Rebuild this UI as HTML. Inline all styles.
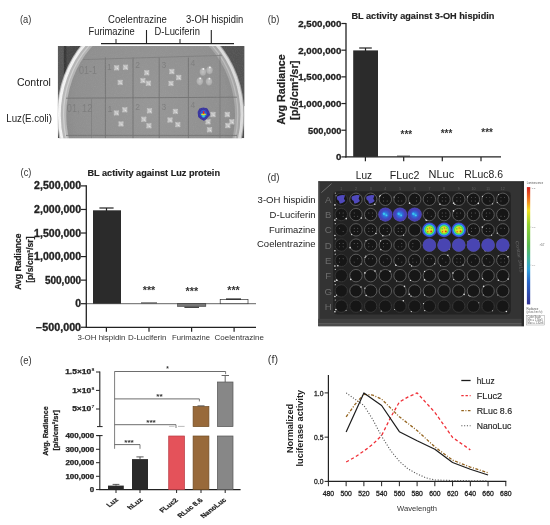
<!DOCTYPE html>
<html lang="en"><head><meta charset="utf-8"><title>Figure</title>
<style>
html,body{margin:0;padding:0;background:#fff;overflow:hidden;}
svg{display:block;font-family:'Liberation Sans', Arial, sans-serif;}
</style></head><body>
<svg width="550" height="525" viewBox="0 0 550 525">
<rect width="550" height="525" fill="#fff"/>
<g id="panel-a">
<text x="20.00" y="22.60" font-size="10" text-anchor="start" fill="#333" textLength="11.40" lengthAdjust="spacingAndGlyphs">(a)</text>
<text x="108.00" y="22.80" font-size="10.3" text-anchor="start" fill="#222" textLength="58.80" lengthAdjust="spacingAndGlyphs">Coelentrazine</text>
<text x="186.00" y="22.80" font-size="10.3" text-anchor="start" fill="#222" textLength="57.30" lengthAdjust="spacingAndGlyphs">3-OH hispidin</text>
<text x="88.50" y="34.80" font-size="10.3" text-anchor="start" fill="#222" textLength="46.20" lengthAdjust="spacingAndGlyphs">Furimazine</text>
<text x="154.50" y="34.80" font-size="10.3" text-anchor="start" fill="#222" textLength="45.40" lengthAdjust="spacingAndGlyphs">D-Luciferin</text>
<text x="16.90" y="86.10" font-size="10.3" text-anchor="start" fill="#222" textLength="34.00" lengthAdjust="spacingAndGlyphs">Control</text>
<text x="6.30" y="122.10" font-size="10.3" text-anchor="start" fill="#222" textLength="45.70" lengthAdjust="spacingAndGlyphs">Luz(E.coli)</text>
<line x1="101.00" y1="43.60" x2="234.00" y2="43.60" stroke="#222" stroke-width="1.1" />
<line x1="146.50" y1="30.00" x2="146.50" y2="43.60" stroke="#222" stroke-width="1.1" />
<line x1="211.30" y1="30.00" x2="211.30" y2="43.60" stroke="#222" stroke-width="1.1" />
<line x1="116.00" y1="39.00" x2="116.00" y2="43.60" stroke="#222" stroke-width="1.0" />
<line x1="180.00" y1="39.00" x2="180.00" y2="43.60" stroke="#222" stroke-width="1.0" />
<defs>
<clipPath id="clipA"><rect x="57.8" y="46.1" width="186.50" height="92.10"/></clipPath>
<radialGradient id="agar" cx="0.5" cy="0.45" r="0.6"><stop offset="0" stop-color="#979797"/><stop offset="0.75" stop-color="#909090"/><stop offset="1" stop-color="#848484"/></radialGradient>
<radialGradient id="col" cx="0.5" cy="0.5" r="0.5"><stop offset="0" stop-color="#d4d4d4"/><stop offset="0.55" stop-color="#c0c0c0" stop-opacity="0.85"/><stop offset="1" stop-color="#a8a8a8" stop-opacity="0"/></radialGradient>
<radialGradient id="colbig" cx="0.5" cy="0.5" r="0.5"><stop offset="0" stop-color="#c2c2c2"/><stop offset="0.7" stop-color="#b2b2b2" stop-opacity="0.9"/><stop offset="1" stop-color="#a0a0a0" stop-opacity="0"/></radialGradient>
<filter id="blurA" x="-10%" y="-10%" width="120%" height="120%"><feGaussianBlur stdDeviation="0.55"/></filter>
<filter id="noiseA" x="0" y="0" width="100%" height="100%"><feTurbulence type="fractalNoise" baseFrequency="0.9" numOctaves="2" seed="3" result="n"/><feColorMatrix type="matrix" values="0 0 0 0 0.5  0 0 0 0 0.5  0 0 0 0 0.5  0.6 0 0 0 -0.22"/></filter>
<linearGradient id="rimfill" x1="0" y1="0" x2="1" y2="0"><stop offset="0" stop-color="#b9b9b9"/><stop offset="0.5" stop-color="#a8a8a8"/><stop offset="1" stop-color="#a6a6a6"/></linearGradient>
<linearGradient id="rimline" x1="0" y1="0" x2="1" y2="0"><stop offset="0" stop-color="#f6f6f6"/><stop offset="0.5" stop-color="#e2e2e2"/><stop offset="1" stop-color="#dcdcdc"/></linearGradient>
<linearGradient id="rimline2" x1="0" y1="0" x2="1" y2="0"><stop offset="0" stop-color="#d0d0d0"/><stop offset="1" stop-color="#bcbcbc"/></linearGradient>
</defs>
<g clip-path="url(#clipA)">
<rect x="57.80" y="46.10" width="186.50" height="92.10" fill="#4a4a4a" />
<rect x="57.80" y="46.10" width="5.80" height="60.00" fill="#595959" />
<rect x="64.00" y="46.10" width="2.40" height="60.00" fill="#383838" />
<rect x="70.00" y="46.10" width="14.00" height="30.00" fill="#474747" />
<rect x="222.00" y="46.10" width="23.00" height="60.00" fill="#535353" />
<g filter="url(#blurA)">
<ellipse cx="150.65" cy="115" rx="93.7" ry="104.3" fill="url(#rimfill)"/>
<ellipse cx="150.65" cy="115" rx="91.3" ry="101.89999999999999" fill="none" stroke="url(#rimline)" stroke-width="2.8"/>
<ellipse cx="150.65" cy="115" rx="87.10000000000001" ry="97.7" fill="none" stroke="url(#rimline2)" stroke-width="1.2"/>
<ellipse cx="150.65" cy="115" rx="84.4" ry="95.0" fill="url(#agar)"/>
<line x1="105.40" y1="57.50" x2="105.40" y2="139.00" stroke="#737373" stroke-width="0.9" />
<line x1="133.00" y1="57.50" x2="133.00" y2="139.00" stroke="#737373" stroke-width="0.9" />
<line x1="159.20" y1="57.50" x2="159.20" y2="139.00" stroke="#737373" stroke-width="0.9" />
<line x1="188.40" y1="57.50" x2="188.40" y2="139.00" stroke="#737373" stroke-width="0.9" />
<line x1="220.00" y1="54.00" x2="220.00" y2="139.00" stroke="#7a7a7a" stroke-width="0.8" />
<line x1="91.50" y1="99.00" x2="91.50" y2="139.00" stroke="#7c7c7c" stroke-width="0.7" />
<line x1="83.00" y1="59.60" x2="222.00" y2="55.40" stroke="#7c7c7c" stroke-width="0.8" />
<line x1="66.00" y1="98.20" x2="237.00" y2="97.20" stroke="#737373" stroke-width="0.9" />
<line x1="66.00" y1="135.40" x2="237.00" y2="135.40" stroke="#747474" stroke-width="0.9" />
<text x="79" y="74.2" font-size="11" fill="#707070" opacity="0.6" textLength="18" lengthAdjust="spacingAndGlyphs">01-1</text>
<text x="66.8" y="111.6" font-size="11" fill="#707070" opacity="0.6" textLength="25.5" lengthAdjust="spacingAndGlyphs">01, 12</text>
<text x="107" y="70.0" font-size="8.5" fill="#707070" opacity="0.6">1</text>
<text x="135.2" y="67.5" font-size="8.5" fill="#707070" opacity="0.6">2</text>
<text x="161.6" y="68.0" font-size="8.5" fill="#707070" opacity="0.6">3</text>
<text x="190.6" y="65.5" font-size="8.5" fill="#707070" opacity="0.6">4</text>
<text x="107.4" y="112.0" font-size="8.5" fill="#707070" opacity="0.6">1</text>
<text x="135.2" y="109.5" font-size="8.5" fill="#707070" opacity="0.6">2</text>
<text x="161.6" y="110.0" font-size="8.5" fill="#707070" opacity="0.6">3</text>
<text x="190.6" y="107.5" font-size="8.5" fill="#707070" opacity="0.6">4</text>
<circle cx="116.6" cy="67.8" r="3.5" fill="url(#col)"/>
<path d="M114.70,65.90 L118.50,69.70 M118.50,65.90 L114.70,69.70" stroke="#cacaca" stroke-width="1.6" stroke-linecap="round" fill="none" opacity="0.85"/>
<circle cx="117.50" cy="68.60" r="0.5" fill="#f0f0f0"/>
<circle cx="115.60" cy="66.90" r="0.4" fill="#e6e6e6"/>
<circle cx="125.5" cy="67.2" r="3.5" fill="url(#col)"/>
<path d="M123.60,65.30 L127.40,69.10 M127.40,65.30 L123.60,69.10" stroke="#cacaca" stroke-width="1.6" stroke-linecap="round" fill="none" opacity="0.85"/>
<circle cx="126.40" cy="68.00" r="0.5" fill="#f0f0f0"/>
<circle cx="124.50" cy="66.30" r="0.4" fill="#e6e6e6"/>
<circle cx="120.2" cy="82.4" r="3.5" fill="url(#col)"/>
<path d="M118.30,80.50 L122.10,84.30 M122.10,80.50 L118.30,84.30" stroke="#cacaca" stroke-width="1.6" stroke-linecap="round" fill="none" opacity="0.85"/>
<circle cx="121.10" cy="83.20" r="0.5" fill="#f0f0f0"/>
<circle cx="119.20" cy="81.50" r="0.4" fill="#e6e6e6"/>
<circle cx="146.7" cy="72.7" r="3.5" fill="url(#col)"/>
<path d="M144.80,70.80 L148.60,74.60 M148.60,70.80 L144.80,74.60" stroke="#cacaca" stroke-width="1.6" stroke-linecap="round" fill="none" opacity="0.85"/>
<circle cx="147.60" cy="73.50" r="0.5" fill="#f0f0f0"/>
<circle cx="145.70" cy="71.80" r="0.4" fill="#e6e6e6"/>
<circle cx="142.9" cy="80.6" r="3.5" fill="url(#col)"/>
<path d="M141.00,78.70 L144.80,82.50 M144.80,78.70 L141.00,82.50" stroke="#cacaca" stroke-width="1.6" stroke-linecap="round" fill="none" opacity="0.85"/>
<circle cx="143.80" cy="81.40" r="0.5" fill="#f0f0f0"/>
<circle cx="141.90" cy="79.70" r="0.4" fill="#e6e6e6"/>
<circle cx="148.4" cy="83.3" r="3.5" fill="url(#col)"/>
<path d="M146.50,81.40 L150.30,85.20 M150.30,81.40 L146.50,85.20" stroke="#cacaca" stroke-width="1.6" stroke-linecap="round" fill="none" opacity="0.85"/>
<circle cx="149.30" cy="84.10" r="0.5" fill="#f0f0f0"/>
<circle cx="147.40" cy="82.40" r="0.4" fill="#e6e6e6"/>
<circle cx="171.8" cy="71.5" r="3.5" fill="url(#col)"/>
<path d="M169.90,69.60 L173.70,73.40 M173.70,69.60 L169.90,73.40" stroke="#cacaca" stroke-width="1.6" stroke-linecap="round" fill="none" opacity="0.85"/>
<circle cx="172.70" cy="72.30" r="0.5" fill="#f0f0f0"/>
<circle cx="170.80" cy="70.60" r="0.4" fill="#e6e6e6"/>
<circle cx="178.7" cy="77.5" r="3.5" fill="url(#col)"/>
<path d="M176.80,75.60 L180.60,79.40 M180.60,75.60 L176.80,79.40" stroke="#cacaca" stroke-width="1.6" stroke-linecap="round" fill="none" opacity="0.85"/>
<circle cx="179.60" cy="78.30" r="0.5" fill="#f0f0f0"/>
<circle cx="177.70" cy="76.60" r="0.4" fill="#e6e6e6"/>
<circle cx="171" cy="83.4" r="3.5" fill="url(#col)"/>
<path d="M169.10,81.50 L172.90,85.30 M172.90,81.50 L169.10,85.30" stroke="#cacaca" stroke-width="1.6" stroke-linecap="round" fill="none" opacity="0.85"/>
<circle cx="171.90" cy="84.20" r="0.5" fill="#f0f0f0"/>
<circle cx="170.00" cy="82.50" r="0.4" fill="#e6e6e6"/>
<circle cx="116.4" cy="112.9" r="3.5" fill="url(#col)"/>
<path d="M114.50,111.00 L118.30,114.80 M118.30,111.00 L114.50,114.80" stroke="#cacaca" stroke-width="1.6" stroke-linecap="round" fill="none" opacity="0.85"/>
<circle cx="117.30" cy="113.70" r="0.5" fill="#f0f0f0"/>
<circle cx="115.40" cy="112.00" r="0.4" fill="#e6e6e6"/>
<circle cx="124.8" cy="109.8" r="3.5" fill="url(#col)"/>
<path d="M122.90,107.90 L126.70,111.70 M126.70,107.90 L122.90,111.70" stroke="#cacaca" stroke-width="1.6" stroke-linecap="round" fill="none" opacity="0.85"/>
<circle cx="125.70" cy="110.60" r="0.5" fill="#f0f0f0"/>
<circle cx="123.80" cy="108.90" r="0.4" fill="#e6e6e6"/>
<circle cx="121" cy="123.9" r="3.5" fill="url(#col)"/>
<path d="M119.10,122.00 L122.90,125.80 M122.90,122.00 L119.10,125.80" stroke="#cacaca" stroke-width="1.6" stroke-linecap="round" fill="none" opacity="0.85"/>
<circle cx="121.90" cy="124.70" r="0.5" fill="#f0f0f0"/>
<circle cx="120.00" cy="123.00" r="0.4" fill="#e6e6e6"/>
<circle cx="149.5" cy="110.7" r="3.5" fill="url(#col)"/>
<path d="M147.60,108.80 L151.40,112.60 M151.40,108.80 L147.60,112.60" stroke="#cacaca" stroke-width="1.6" stroke-linecap="round" fill="none" opacity="0.85"/>
<circle cx="150.40" cy="111.50" r="0.5" fill="#f0f0f0"/>
<circle cx="148.50" cy="109.80" r="0.4" fill="#e6e6e6"/>
<circle cx="143.8" cy="119.3" r="3.5" fill="url(#col)"/>
<path d="M141.90,117.40 L145.70,121.20 M145.70,117.40 L141.90,121.20" stroke="#cacaca" stroke-width="1.6" stroke-linecap="round" fill="none" opacity="0.85"/>
<circle cx="144.70" cy="120.10" r="0.5" fill="#f0f0f0"/>
<circle cx="142.80" cy="118.40" r="0.4" fill="#e6e6e6"/>
<circle cx="148.9" cy="125.7" r="3.5" fill="url(#col)"/>
<path d="M147.00,123.80 L150.80,127.60 M150.80,123.80 L147.00,127.60" stroke="#cacaca" stroke-width="1.6" stroke-linecap="round" fill="none" opacity="0.85"/>
<circle cx="149.80" cy="126.50" r="0.5" fill="#f0f0f0"/>
<circle cx="147.90" cy="124.80" r="0.4" fill="#e6e6e6"/>
<circle cx="175.4" cy="111.4" r="3.5" fill="url(#col)"/>
<path d="M173.50,109.50 L177.30,113.30 M177.30,109.50 L173.50,113.30" stroke="#cacaca" stroke-width="1.6" stroke-linecap="round" fill="none" opacity="0.85"/>
<circle cx="176.30" cy="112.20" r="0.5" fill="#f0f0f0"/>
<circle cx="174.40" cy="110.50" r="0.4" fill="#e6e6e6"/>
<circle cx="170" cy="120" r="3.5" fill="url(#col)"/>
<path d="M168.10,118.10 L171.90,121.90 M171.90,118.10 L168.10,121.90" stroke="#cacaca" stroke-width="1.6" stroke-linecap="round" fill="none" opacity="0.85"/>
<circle cx="170.90" cy="120.80" r="0.5" fill="#f0f0f0"/>
<circle cx="169.00" cy="119.10" r="0.4" fill="#e6e6e6"/>
<circle cx="177.8" cy="124.6" r="3.5" fill="url(#col)"/>
<path d="M175.90,122.70 L179.70,126.50 M179.70,122.70 L175.90,126.50" stroke="#cacaca" stroke-width="1.6" stroke-linecap="round" fill="none" opacity="0.85"/>
<circle cx="178.70" cy="125.40" r="0.5" fill="#f0f0f0"/>
<circle cx="176.80" cy="123.70" r="0.4" fill="#e6e6e6"/>
<circle cx="213" cy="114.5" r="3.5" fill="url(#col)"/>
<path d="M211.10,112.60 L214.90,116.40 M214.90,112.60 L211.10,116.40" stroke="#cacaca" stroke-width="1.6" stroke-linecap="round" fill="none" opacity="0.85"/>
<circle cx="213.90" cy="115.30" r="0.5" fill="#f0f0f0"/>
<circle cx="212.00" cy="113.60" r="0.4" fill="#e6e6e6"/>
<circle cx="208" cy="121.8" r="3.5" fill="url(#col)"/>
<path d="M206.10,119.90 L209.90,123.70 M209.90,119.90 L206.10,123.70" stroke="#cacaca" stroke-width="1.6" stroke-linecap="round" fill="none" opacity="0.85"/>
<circle cx="208.90" cy="122.60" r="0.5" fill="#f0f0f0"/>
<circle cx="207.00" cy="120.90" r="0.4" fill="#e6e6e6"/>
<circle cx="209.5" cy="129.7" r="3.5" fill="url(#col)"/>
<path d="M207.60,127.80 L211.40,131.60 M211.40,127.80 L207.60,131.60" stroke="#cacaca" stroke-width="1.6" stroke-linecap="round" fill="none" opacity="0.85"/>
<circle cx="210.40" cy="130.50" r="0.5" fill="#f0f0f0"/>
<circle cx="208.50" cy="128.80" r="0.4" fill="#e6e6e6"/>
<circle cx="227.3" cy="114.5" r="3.5" fill="url(#col)"/>
<path d="M225.40,112.60 L229.20,116.40 M229.20,112.60 L225.40,116.40" stroke="#cacaca" stroke-width="1.6" stroke-linecap="round" fill="none" opacity="0.85"/>
<circle cx="228.20" cy="115.30" r="0.5" fill="#f0f0f0"/>
<circle cx="226.30" cy="113.60" r="0.4" fill="#e6e6e6"/>
<circle cx="231.8" cy="121.8" r="3.5" fill="url(#col)"/>
<path d="M229.90,119.90 L233.70,123.70 M233.70,119.90 L229.90,123.70" stroke="#cacaca" stroke-width="1.6" stroke-linecap="round" fill="none" opacity="0.85"/>
<circle cx="232.70" cy="122.60" r="0.5" fill="#f0f0f0"/>
<circle cx="230.80" cy="120.90" r="0.4" fill="#e6e6e6"/>
<circle cx="227.8" cy="125.5" r="3.5" fill="url(#col)"/>
<path d="M225.90,123.60 L229.70,127.40 M229.70,123.60 L225.90,127.40" stroke="#cacaca" stroke-width="1.6" stroke-linecap="round" fill="none" opacity="0.85"/>
<circle cx="228.70" cy="126.30" r="0.5" fill="#f0f0f0"/>
<circle cx="226.80" cy="124.60" r="0.4" fill="#e6e6e6"/>
<ellipse cx="202.9" cy="71.8" rx="3.9" ry="4.7" fill="url(#colbig)"/>
<circle cx="203.3" cy="69.0" r="0.9" fill="#f2f2f2"/>
<ellipse cx="209.5" cy="70.2" rx="3.9" ry="4.7" fill="url(#colbig)"/>
<circle cx="209.9" cy="67.4" r="0.9" fill="#f2f2f2"/>
<ellipse cx="199.8" cy="81.2" rx="3.9" ry="4.7" fill="url(#colbig)"/>
<circle cx="200.20000000000002" cy="78.4" r="0.9" fill="#f2f2f2"/>
<ellipse cx="209" cy="81.5" rx="3.9" ry="4.7" fill="url(#colbig)"/>
<circle cx="209.4" cy="78.7" r="0.9" fill="#f2f2f2"/>
</g>
<g filter="url(#blurA)">
<path d="M197.6,111.9 L199.4,108.5 L203.1,107.5 L207.2,108.30000000000001 L209.2,111.7 L210.2,114.9 L208.2,117.10000000000001 L206.2,119.5 L203.79999999999998,120.7 L200.79999999999998,119.30000000000001 L198.2,116.9 Z" fill="#39349f"/>
<path d="M200.2,112.30000000000001 L201.79999999999998,110.10000000000001 L205.2,110.10000000000001 L207.0,112.7 L206.79999999999998,115.7 L204.6,118.10000000000001 L202.0,117.5 L200.2,115.30000000000001 Z" fill="#2a55d6"/>
<ellipse cx="203.5" cy="116.10000000000001" rx="1.5" ry="1.4" fill="#30c8e0"/>
<rect x="201.0" y="113.7" width="5.2" height="1.5" fill="#a0e040"/>
<rect x="202.4" y="113.5" width="2.4" height="1.6" fill="#f0e030"/>
<rect x="202.9" y="111.10000000000001" width="1.5" height="3.0" fill="#e8261c"/>
</g>
<rect x="57.8" y="46.1" width="186.50" height="92.10" filter="url(#noiseA)" opacity="0.35"/>
</g>
</g>
<g id="panel-b">
<text x="267.80" y="23.20" font-size="10" text-anchor="start" fill="#333" textLength="11.50" lengthAdjust="spacingAndGlyphs">(b)</text>
<text x="351.40" y="19.00" font-size="8.2" text-anchor="start" fill="#222" font-weight="bold" textLength="143.00" lengthAdjust="spacingAndGlyphs" stroke="#222" stroke-width="0.15">BL activity against 3-OH hispidin</text>
<line x1="346.00" y1="22.90" x2="346.00" y2="157.50" stroke="#222" stroke-width="1.3" />
<line x1="345.40" y1="156.90" x2="501.00" y2="156.90" stroke="#222" stroke-width="1.3" />
<line x1="341.40" y1="23.50" x2="346.00" y2="23.50" stroke="#222" stroke-width="1.2" />
<text x="341.40" y="26.90" font-size="9.6" text-anchor="end" fill="#222" font-weight="bold" textLength="43.20" lengthAdjust="spacingAndGlyphs" stroke="#222" stroke-width="0.3">2,500,000</text>
<line x1="341.40" y1="50.18" x2="346.00" y2="50.18" stroke="#222" stroke-width="1.2" />
<text x="341.40" y="53.58" font-size="9.6" text-anchor="end" fill="#222" font-weight="bold" textLength="43.20" lengthAdjust="spacingAndGlyphs" stroke="#222" stroke-width="0.3">2,000,000</text>
<line x1="341.40" y1="76.86" x2="346.00" y2="76.86" stroke="#222" stroke-width="1.2" />
<text x="341.40" y="80.26" font-size="9.6" text-anchor="end" fill="#222" font-weight="bold" textLength="43.20" lengthAdjust="spacingAndGlyphs" stroke="#222" stroke-width="0.3">1,500,000</text>
<line x1="341.40" y1="103.54" x2="346.00" y2="103.54" stroke="#222" stroke-width="1.2" />
<text x="341.40" y="106.94" font-size="9.6" text-anchor="end" fill="#222" font-weight="bold" textLength="43.20" lengthAdjust="spacingAndGlyphs" stroke="#222" stroke-width="0.3">1,000,000</text>
<line x1="341.40" y1="130.22" x2="346.00" y2="130.22" stroke="#222" stroke-width="1.2" />
<text x="341.40" y="133.62" font-size="9.6" text-anchor="end" fill="#222" font-weight="bold" textLength="33.30" lengthAdjust="spacingAndGlyphs" stroke="#222" stroke-width="0.3">500,000</text>
<line x1="341.40" y1="156.90" x2="346.00" y2="156.90" stroke="#222" stroke-width="1.2" />
<text x="341.40" y="160.30" font-size="9.6" text-anchor="end" fill="#222" font-weight="bold" textLength="5.40" lengthAdjust="spacingAndGlyphs" stroke="#222" stroke-width="0.3">0</text>
<line x1="365.40" y1="156.90" x2="365.40" y2="161.20" stroke="#222" stroke-width="1.2" />
<line x1="403.70" y1="156.90" x2="403.70" y2="161.20" stroke="#222" stroke-width="1.2" />
<line x1="442.30" y1="156.90" x2="442.30" y2="161.20" stroke="#222" stroke-width="1.2" />
<line x1="481.00" y1="156.90" x2="481.00" y2="161.20" stroke="#222" stroke-width="1.2" />
<rect x="353.20" y="50.39" width="24.80" height="106.51" fill="#2b2b2b" />
<line x1="365.50" y1="48.00" x2="365.50" y2="51.00" stroke="#222" stroke-width="1.2" />
<line x1="359.20" y1="48.00" x2="371.80" y2="48.00" stroke="#222" stroke-width="1.2" />
<line x1="397.00" y1="156.10" x2="410.00" y2="156.10" stroke="#333" stroke-width="0.9" />
<text x="406.40" y="138.00" font-size="11" text-anchor="middle" fill="#333" font-weight="bold" textLength="11.60" lengthAdjust="spacingAndGlyphs">***</text>
<text x="446.50" y="137.20" font-size="11" text-anchor="middle" fill="#333" font-weight="bold" textLength="11.60" lengthAdjust="spacingAndGlyphs">***</text>
<text x="487.10" y="136.20" font-size="11" text-anchor="middle" fill="#333" font-weight="bold" textLength="11.60" lengthAdjust="spacingAndGlyphs">***</text>
<text x="285.20" y="89.50" font-size="10.6" text-anchor="middle" fill="#222" font-weight="bold" textLength="70.50" lengthAdjust="spacingAndGlyphs" transform="rotate(-90 285.20 89.50)" stroke="#222" stroke-width="0.2">Avg Radiance</text>
<text x="298.20" y="90.30" font-size="10.6" text-anchor="middle" fill="#222" font-weight="bold" textLength="59.40" lengthAdjust="spacingAndGlyphs" transform="rotate(-90 298.20 90.30)" stroke="#222" stroke-width="0.2">[p/s/cm²/sr]</text>
<text x="355.80" y="178.50" font-size="10.4" text-anchor="start" fill="#222" textLength="16.20" lengthAdjust="spacingAndGlyphs">Luz</text>
<text x="389.80" y="178.50" font-size="10.4" text-anchor="start" fill="#222" textLength="29.60" lengthAdjust="spacingAndGlyphs">FLuc2</text>
<text x="428.60" y="177.60" font-size="10.4" text-anchor="start" fill="#222" textLength="25.60" lengthAdjust="spacingAndGlyphs">NLuc</text>
<text x="464.20" y="177.60" font-size="10.4" text-anchor="start" fill="#222" textLength="38.80" lengthAdjust="spacingAndGlyphs">RLuc8.6</text>
</g>
<g id="panel-c">
<text x="20.60" y="176.20" font-size="10" text-anchor="start" fill="#333" textLength="10.80" lengthAdjust="spacingAndGlyphs">(c)</text>
<text x="87.40" y="176.00" font-size="8.2" text-anchor="start" fill="#222" font-weight="bold" textLength="132.60" lengthAdjust="spacingAndGlyphs" stroke="#222" stroke-width="0.15">BL activity against Luz protein</text>
<line x1="86.30" y1="185.30" x2="86.30" y2="327.90" stroke="#222" stroke-width="1.3" />
<line x1="85.70" y1="327.30" x2="256.00" y2="327.30" stroke="#222" stroke-width="1.3" />
<line x1="86.30" y1="303.70" x2="256.00" y2="303.70" stroke="#222" stroke-width="0.7" />
<line x1="80.90" y1="185.90" x2="86.30" y2="185.90" stroke="#222" stroke-width="1.2" />
<text x="81.10" y="189.40" font-size="10" text-anchor="end" fill="#222" font-weight="bold" textLength="47.00" lengthAdjust="spacingAndGlyphs" stroke="#222" stroke-width="0.3">2,500,000</text>
<line x1="80.90" y1="209.46" x2="86.30" y2="209.46" stroke="#222" stroke-width="1.2" />
<text x="81.10" y="212.96" font-size="10" text-anchor="end" fill="#222" font-weight="bold" textLength="47.00" lengthAdjust="spacingAndGlyphs" stroke="#222" stroke-width="0.3">2,000,000</text>
<line x1="80.90" y1="233.02" x2="86.30" y2="233.02" stroke="#222" stroke-width="1.2" />
<text x="81.10" y="236.52" font-size="10" text-anchor="end" fill="#222" font-weight="bold" textLength="47.00" lengthAdjust="spacingAndGlyphs" stroke="#222" stroke-width="0.3">1,500,000</text>
<line x1="80.90" y1="256.58" x2="86.30" y2="256.58" stroke="#222" stroke-width="1.2" />
<text x="81.10" y="260.08" font-size="10" text-anchor="end" fill="#222" font-weight="bold" textLength="47.00" lengthAdjust="spacingAndGlyphs" stroke="#222" stroke-width="0.3">1,000,000</text>
<line x1="80.90" y1="280.14" x2="86.30" y2="280.14" stroke="#222" stroke-width="1.2" />
<text x="81.10" y="283.64" font-size="10" text-anchor="end" fill="#222" font-weight="bold" textLength="36.20" lengthAdjust="spacingAndGlyphs" stroke="#222" stroke-width="0.3">500,000</text>
<line x1="80.90" y1="303.70" x2="86.30" y2="303.70" stroke="#222" stroke-width="1.2" />
<text x="81.10" y="307.20" font-size="10" text-anchor="end" fill="#222" font-weight="bold" textLength="5.80" lengthAdjust="spacingAndGlyphs" stroke="#222" stroke-width="0.3">0</text>
<line x1="80.90" y1="327.26" x2="86.30" y2="327.26" stroke="#222" stroke-width="1.2" />
<text x="81.10" y="330.76" font-size="10" text-anchor="end" fill="#222" font-weight="bold" textLength="45.00" lengthAdjust="spacingAndGlyphs" stroke="#222" stroke-width="0.3">−500,000</text>
<line x1="106.40" y1="327.30" x2="106.40" y2="331.80" stroke="#222" stroke-width="1.2" />
<line x1="149.00" y1="327.30" x2="149.00" y2="331.80" stroke="#222" stroke-width="1.2" />
<line x1="191.60" y1="327.30" x2="191.60" y2="331.80" stroke="#222" stroke-width="1.2" />
<line x1="234.10" y1="327.30" x2="234.10" y2="331.80" stroke="#222" stroke-width="1.2" />
<rect x="93.00" y="210.31" width="28.00" height="93.39" fill="#2b2b2b" />
<line x1="106.50" y1="208.00" x2="106.50" y2="211.00" stroke="#222" stroke-width="1.2" />
<line x1="99.40" y1="208.00" x2="113.60" y2="208.00" stroke="#222" stroke-width="1.2" />
<line x1="141.00" y1="302.90" x2="157.00" y2="302.90" stroke="#333" stroke-width="0.9" />
<rect x="177.60" y="303.70" width="28.20" height="2.60" fill="#777" stroke="#333" stroke-width="0.6" />
<line x1="184.40" y1="307.30" x2="199.00" y2="307.30" stroke="#333" stroke-width="1.2" />
<rect x="220.20" y="299.40" width="27.80" height="4.30" fill="#fff" stroke="#333" stroke-width="0.7" />
<line x1="226.00" y1="299.10" x2="241.00" y2="299.10" stroke="#222" stroke-width="1.3" />
<text x="149.00" y="294.00" font-size="11" text-anchor="middle" fill="#333" font-weight="bold" textLength="12.60" lengthAdjust="spacingAndGlyphs">***</text>
<text x="191.80" y="294.90" font-size="11" text-anchor="middle" fill="#333" font-weight="bold" textLength="12.60" lengthAdjust="spacingAndGlyphs">***</text>
<text x="233.50" y="293.90" font-size="11" text-anchor="middle" fill="#333" font-weight="bold" textLength="12.60" lengthAdjust="spacingAndGlyphs">***</text>
<text x="20.60" y="261.70" font-size="8.6" text-anchor="middle" fill="#222" font-weight="bold" textLength="56.20" lengthAdjust="spacingAndGlyphs" transform="rotate(-90 20.60 261.70)" stroke="#222" stroke-width="0.2">Avg Radiance</text>
<text x="32.60" y="259.60" font-size="8.6" text-anchor="middle" fill="#222" font-weight="bold" textLength="46.30" lengthAdjust="spacingAndGlyphs" transform="rotate(-90 32.60 259.60)" stroke="#222" stroke-width="0.2">[p/s/cm²/sr]</text>
<text x="77.50" y="339.90" font-size="7.6" text-anchor="start" fill="#333" textLength="48.00" lengthAdjust="spacingAndGlyphs">3-OH hispidin</text>
<text x="128.00" y="339.90" font-size="7.6" text-anchor="start" fill="#333" textLength="38.40" lengthAdjust="spacingAndGlyphs">D-Luciferin</text>
<text x="172.00" y="339.90" font-size="7.6" text-anchor="start" fill="#333" textLength="38.00" lengthAdjust="spacingAndGlyphs">Furimazine</text>
<text x="214.60" y="339.90" font-size="7.6" text-anchor="start" fill="#333" textLength="49.40" lengthAdjust="spacingAndGlyphs">Coelentrazine</text>
</g>
<g id="panel-d">
<text x="267.60" y="181.00" font-size="10" text-anchor="start" fill="#333" textLength="12.00" lengthAdjust="spacingAndGlyphs">(d)</text>
<text x="315.60" y="202.60" font-size="9.9" text-anchor="end" fill="#222" textLength="58.00" lengthAdjust="spacingAndGlyphs">3-OH hispidin</text>
<text x="315.60" y="218.00" font-size="9.9" text-anchor="end" fill="#222" textLength="46.00" lengthAdjust="spacingAndGlyphs">D-Luciferin</text>
<text x="315.60" y="233.40" font-size="9.9" text-anchor="end" fill="#222" textLength="46.60" lengthAdjust="spacingAndGlyphs">Furimazine</text>
<text x="315.60" y="246.60" font-size="9.9" text-anchor="end" fill="#222" textLength="58.60" lengthAdjust="spacingAndGlyphs">Coelentrazine</text>
<defs>
<clipPath id="clipD"><rect x="318.2" y="181.2" width="205.80" height="145.10"/></clipPath>
<filter id="blurD" x="-5%" y="-5%" width="110%" height="110%"><feGaussianBlur stdDeviation="0.55"/></filter>
<filter id="blurD2" x="-20%" y="-20%" width="140%" height="140%"><feGaussianBlur stdDeviation="0.7"/></filter>
<radialGradient id="gB" cx="0.5" cy="0.5" r="0.5"><stop offset="0" stop-color="#34a8e6"/><stop offset="0.35" stop-color="#2f68d8"/><stop offset="0.7" stop-color="#4541b8"/><stop offset="1" stop-color="#4a42ae"/></radialGradient>
<radialGradient id="gC" cx="0.5" cy="0.5" r="0.5"><stop offset="0" stop-color="#f0dc20"/><stop offset="0.42" stop-color="#d0e428"/><stop offset="0.58" stop-color="#48d448"/><stop offset="0.7" stop-color="#28c0e0"/><stop offset="0.8" stop-color="#2c62e0"/><stop offset="1" stop-color="#4a3fc0"/></radialGradient>
<linearGradient id="cbar" x1="0" y1="0" x2="0" y2="1"><stop offset="0" stop-color="#d42020"/><stop offset="0.11" stop-color="#f07c20"/><stop offset="0.2" stop-color="#f0e020"/><stop offset="0.32" stop-color="#90d030"/><stop offset="0.5" stop-color="#58b850"/><stop offset="0.62" stop-color="#40b0a0"/><stop offset="0.7" stop-color="#30a0d8"/><stop offset="0.8" stop-color="#2868c8"/><stop offset="1" stop-color="#343494"/></linearGradient>
</defs>
<g clip-path="url(#clipD)">
<rect x="318.20" y="181.20" width="205.80" height="145.10" fill="#333333" />
<rect x="318.20" y="181.20" width="1.30" height="145.10" fill="#585858" />
<rect x="318.20" y="318.80" width="205.80" height="8.00" fill="#414141" />
<rect x="318.20" y="323.40" width="205.80" height="0.90" fill="#6a6a6a" />
<rect x="318.20" y="324.30" width="205.80" height="2.20" fill="#4c4c4c" />
<rect x="318.20" y="181.20" width="205.80" height="1.00" fill="#2c2c2c" />
<rect x="521.60" y="181.20" width="2.60" height="145.10" fill="#2c2c2c" />
<g filter="url(#blurD)">
<rect x="333.2" y="191.2" width="177.6" height="123.2" rx="4" fill="#232323"/>
<line x1="321.40" y1="192.60" x2="331.50" y2="183.70" stroke="#747474" stroke-width="0.9" />
<circle cx="341.30" cy="199.30" r="6.2" fill="#181818" stroke="#3a3a3a" stroke-width="0.8"/>
<circle cx="355.98" cy="199.30" r="6.2" fill="#181818" stroke="#686868" stroke-width="0.8"/>
<circle cx="370.66" cy="199.30" r="6.2" fill="#181818" stroke="#686868" stroke-width="0.8"/>
<circle cx="385.34" cy="199.30" r="6.2" fill="#181818" stroke="#686868" stroke-width="0.8"/>
<circle cx="400.02" cy="199.30" r="6.2" fill="#181818" stroke="#686868" stroke-width="0.8"/>
<circle cx="414.70" cy="199.30" r="6.2" fill="#181818" stroke="#686868" stroke-width="0.8"/>
<circle cx="429.38" cy="199.30" r="6.2" fill="#181818" stroke="#686868" stroke-width="0.8"/>
<circle cx="444.06" cy="199.30" r="6.2" fill="#181818" stroke="#686868" stroke-width="0.8"/>
<circle cx="458.74" cy="199.30" r="6.2" fill="#181818" stroke="#686868" stroke-width="0.8"/>
<circle cx="473.42" cy="199.30" r="6.2" fill="#181818" stroke="#686868" stroke-width="0.8"/>
<circle cx="488.10" cy="199.30" r="6.2" fill="#181818" stroke="#686868" stroke-width="0.8"/>
<circle cx="502.78" cy="199.30" r="6.2" fill="#181818" stroke="#686868" stroke-width="0.8"/>
<circle cx="341.30" cy="214.57" r="6.2" fill="#181818" stroke="#3a3a3a" stroke-width="0.8"/>
<circle cx="355.98" cy="214.57" r="6.2" fill="#181818" stroke="#686868" stroke-width="0.8"/>
<circle cx="370.66" cy="214.57" r="6.2" fill="#181818" stroke="#686868" stroke-width="0.8"/>
<circle cx="385.34" cy="214.57" r="6.2" fill="#181818" stroke="#686868" stroke-width="0.8"/>
<circle cx="400.02" cy="214.57" r="6.2" fill="#181818" stroke="#686868" stroke-width="0.8"/>
<circle cx="414.70" cy="214.57" r="6.2" fill="#181818" stroke="#686868" stroke-width="0.8"/>
<circle cx="429.38" cy="214.57" r="6.2" fill="#181818" stroke="#686868" stroke-width="0.8"/>
<circle cx="444.06" cy="214.57" r="6.2" fill="#181818" stroke="#686868" stroke-width="0.8"/>
<circle cx="458.74" cy="214.57" r="6.2" fill="#181818" stroke="#686868" stroke-width="0.8"/>
<circle cx="473.42" cy="214.57" r="6.2" fill="#181818" stroke="#686868" stroke-width="0.8"/>
<circle cx="488.10" cy="214.57" r="6.2" fill="#181818" stroke="#686868" stroke-width="0.8"/>
<circle cx="502.78" cy="214.57" r="6.2" fill="#181818" stroke="#686868" stroke-width="0.8"/>
<circle cx="341.30" cy="229.84" r="6.2" fill="#181818" stroke="#3a3a3a" stroke-width="0.8"/>
<circle cx="355.98" cy="229.84" r="6.2" fill="#181818" stroke="#686868" stroke-width="0.8"/>
<circle cx="370.66" cy="229.84" r="6.2" fill="#181818" stroke="#686868" stroke-width="0.8"/>
<circle cx="385.34" cy="229.84" r="6.2" fill="#181818" stroke="#686868" stroke-width="0.8"/>
<circle cx="400.02" cy="229.84" r="6.2" fill="#181818" stroke="#686868" stroke-width="0.8"/>
<circle cx="414.70" cy="229.84" r="6.2" fill="#181818" stroke="#686868" stroke-width="0.8"/>
<circle cx="429.38" cy="229.84" r="6.2" fill="#181818" stroke="#686868" stroke-width="0.8"/>
<circle cx="444.06" cy="229.84" r="6.2" fill="#181818" stroke="#686868" stroke-width="0.8"/>
<circle cx="458.74" cy="229.84" r="6.2" fill="#181818" stroke="#686868" stroke-width="0.8"/>
<circle cx="473.42" cy="229.84" r="6.2" fill="#181818" stroke="#686868" stroke-width="0.8"/>
<circle cx="488.10" cy="229.84" r="6.2" fill="#181818" stroke="#686868" stroke-width="0.8"/>
<circle cx="502.78" cy="229.84" r="6.2" fill="#181818" stroke="#686868" stroke-width="0.8"/>
<circle cx="341.30" cy="245.11" r="6.2" fill="#181818" stroke="#3a3a3a" stroke-width="0.8"/>
<circle cx="355.98" cy="245.11" r="6.2" fill="#181818" stroke="#686868" stroke-width="0.8"/>
<circle cx="370.66" cy="245.11" r="6.2" fill="#181818" stroke="#686868" stroke-width="0.8"/>
<circle cx="385.34" cy="245.11" r="6.2" fill="#181818" stroke="#686868" stroke-width="0.8"/>
<circle cx="400.02" cy="245.11" r="6.2" fill="#181818" stroke="#686868" stroke-width="0.8"/>
<circle cx="414.70" cy="245.11" r="6.2" fill="#181818" stroke="#686868" stroke-width="0.8"/>
<circle cx="429.38" cy="245.11" r="6.2" fill="#181818" stroke="#686868" stroke-width="0.8"/>
<circle cx="444.06" cy="245.11" r="6.2" fill="#181818" stroke="#686868" stroke-width="0.8"/>
<circle cx="458.74" cy="245.11" r="6.2" fill="#181818" stroke="#686868" stroke-width="0.8"/>
<circle cx="473.42" cy="245.11" r="6.2" fill="#181818" stroke="#686868" stroke-width="0.8"/>
<circle cx="488.10" cy="245.11" r="6.2" fill="#181818" stroke="#686868" stroke-width="0.8"/>
<circle cx="502.78" cy="245.11" r="6.2" fill="#181818" stroke="#686868" stroke-width="0.8"/>
<circle cx="341.30" cy="260.38" r="6.2" fill="#181818" stroke="#3a3a3a" stroke-width="0.8"/>
<circle cx="355.98" cy="260.38" r="6.2" fill="#181818" stroke="#686868" stroke-width="0.8"/>
<circle cx="370.66" cy="260.38" r="6.2" fill="#181818" stroke="#686868" stroke-width="0.8"/>
<circle cx="385.34" cy="260.38" r="6.2" fill="#181818" stroke="#686868" stroke-width="0.8"/>
<circle cx="400.02" cy="260.38" r="6.2" fill="#181818" stroke="#686868" stroke-width="0.8"/>
<circle cx="414.70" cy="260.38" r="6.2" fill="#181818" stroke="#686868" stroke-width="0.8"/>
<circle cx="429.38" cy="260.38" r="6.2" fill="#181818" stroke="#686868" stroke-width="0.8"/>
<circle cx="444.06" cy="260.38" r="6.2" fill="#181818" stroke="#686868" stroke-width="0.8"/>
<circle cx="458.74" cy="260.38" r="6.2" fill="#181818" stroke="#686868" stroke-width="0.8"/>
<circle cx="473.42" cy="260.38" r="6.2" fill="#181818" stroke="#686868" stroke-width="0.8"/>
<circle cx="488.10" cy="260.38" r="6.2" fill="#181818" stroke="#686868" stroke-width="0.8"/>
<circle cx="502.78" cy="260.38" r="6.2" fill="#181818" stroke="#686868" stroke-width="0.8"/>
<circle cx="341.30" cy="275.65" r="6.2" fill="#181818" stroke="#3a3a3a" stroke-width="0.8"/>
<circle cx="355.98" cy="275.65" r="6.2" fill="#181818" stroke="#686868" stroke-width="0.8"/>
<circle cx="370.66" cy="275.65" r="6.2" fill="#181818" stroke="#686868" stroke-width="0.8"/>
<circle cx="385.34" cy="275.65" r="6.2" fill="#181818" stroke="#686868" stroke-width="0.8"/>
<circle cx="400.02" cy="275.65" r="6.2" fill="#181818" stroke="#686868" stroke-width="0.8"/>
<circle cx="414.70" cy="275.65" r="6.2" fill="#181818" stroke="#686868" stroke-width="0.8"/>
<circle cx="429.38" cy="275.65" r="6.2" fill="#181818" stroke="#686868" stroke-width="0.8"/>
<circle cx="444.06" cy="275.65" r="6.2" fill="#181818" stroke="#686868" stroke-width="0.8"/>
<circle cx="458.74" cy="275.65" r="6.2" fill="#181818" stroke="#686868" stroke-width="0.8"/>
<circle cx="473.42" cy="275.65" r="6.2" fill="#181818" stroke="#686868" stroke-width="0.8"/>
<circle cx="488.10" cy="275.65" r="6.2" fill="#181818" stroke="#686868" stroke-width="0.8"/>
<circle cx="502.78" cy="275.65" r="6.2" fill="#181818" stroke="#686868" stroke-width="0.8"/>
<circle cx="341.30" cy="290.92" r="6.2" fill="#181818" stroke="#3a3a3a" stroke-width="0.8"/>
<circle cx="355.98" cy="290.92" r="6.2" fill="#181818" stroke="#686868" stroke-width="0.8"/>
<circle cx="370.66" cy="290.92" r="6.2" fill="#181818" stroke="#686868" stroke-width="0.8"/>
<circle cx="385.34" cy="290.92" r="6.2" fill="#181818" stroke="#686868" stroke-width="0.8"/>
<circle cx="400.02" cy="290.92" r="6.2" fill="#181818" stroke="#686868" stroke-width="0.8"/>
<circle cx="414.70" cy="290.92" r="6.2" fill="#181818" stroke="#686868" stroke-width="0.8"/>
<circle cx="429.38" cy="290.92" r="6.2" fill="#181818" stroke="#686868" stroke-width="0.8"/>
<circle cx="444.06" cy="290.92" r="6.2" fill="#181818" stroke="#686868" stroke-width="0.8"/>
<circle cx="458.74" cy="290.92" r="6.2" fill="#181818" stroke="#686868" stroke-width="0.8"/>
<circle cx="473.42" cy="290.92" r="6.2" fill="#181818" stroke="#686868" stroke-width="0.8"/>
<circle cx="488.10" cy="290.92" r="6.2" fill="#181818" stroke="#686868" stroke-width="0.8"/>
<circle cx="502.78" cy="290.92" r="6.2" fill="#181818" stroke="#686868" stroke-width="0.8"/>
<circle cx="341.30" cy="306.19" r="6.2" fill="#181818" stroke="#3a3a3a" stroke-width="0.8"/>
<circle cx="355.98" cy="306.19" r="6.2" fill="#181818" stroke="#3a3a3a" stroke-width="0.8"/>
<circle cx="370.66" cy="306.19" r="6.2" fill="#181818" stroke="#3a3a3a" stroke-width="0.8"/>
<circle cx="385.34" cy="306.19" r="6.2" fill="#181818" stroke="#3a3a3a" stroke-width="0.8"/>
<circle cx="400.02" cy="306.19" r="6.2" fill="#181818" stroke="#3a3a3a" stroke-width="0.8"/>
<circle cx="414.70" cy="306.19" r="6.2" fill="#181818" stroke="#3a3a3a" stroke-width="0.8"/>
<circle cx="429.38" cy="306.19" r="6.2" fill="#181818" stroke="#3a3a3a" stroke-width="0.8"/>
<circle cx="444.06" cy="306.19" r="6.2" fill="#181818" stroke="#3a3a3a" stroke-width="0.8"/>
<circle cx="458.74" cy="306.19" r="6.2" fill="#181818" stroke="#3a3a3a" stroke-width="0.8"/>
<circle cx="473.42" cy="306.19" r="6.2" fill="#181818" stroke="#3a3a3a" stroke-width="0.8"/>
<circle cx="488.10" cy="306.19" r="6.2" fill="#181818" stroke="#3a3a3a" stroke-width="0.8"/>
<circle cx="502.78" cy="306.19" r="6.2" fill="#181818" stroke="#3a3a3a" stroke-width="0.8"/>
<circle cx="339.50" cy="197.70" r="0.42" fill="#9a9a9a"/>
<circle cx="343.10" cy="197.70" r="0.42" fill="#9a9a9a"/>
<circle cx="339.50" cy="201.00" r="0.42" fill="#9a9a9a"/>
<circle cx="343.10" cy="201.00" r="0.42" fill="#9a9a9a"/>
<circle cx="354.18" cy="197.70" r="0.42" fill="#9a9a9a"/>
<circle cx="357.78" cy="197.70" r="0.42" fill="#9a9a9a"/>
<circle cx="354.18" cy="201.00" r="0.42" fill="#9a9a9a"/>
<circle cx="357.78" cy="201.00" r="0.42" fill="#9a9a9a"/>
<circle cx="368.86" cy="197.70" r="0.42" fill="#9a9a9a"/>
<circle cx="372.46" cy="197.70" r="0.42" fill="#9a9a9a"/>
<circle cx="368.86" cy="201.00" r="0.42" fill="#9a9a9a"/>
<circle cx="372.46" cy="201.00" r="0.42" fill="#9a9a9a"/>
<circle cx="383.54" cy="197.70" r="0.42" fill="#9a9a9a"/>
<circle cx="383.54" cy="201.00" r="0.42" fill="#9a9a9a"/>
<circle cx="387.14" cy="201.00" r="0.42" fill="#9a9a9a"/>
<circle cx="398.22" cy="197.70" r="0.42" fill="#9a9a9a"/>
<circle cx="398.22" cy="201.00" r="0.42" fill="#9a9a9a"/>
<circle cx="401.82" cy="201.00" r="0.42" fill="#9a9a9a"/>
<circle cx="416.50" cy="197.70" r="0.42" fill="#9a9a9a"/>
<circle cx="416.50" cy="201.00" r="0.42" fill="#9a9a9a"/>
<circle cx="427.58" cy="197.70" r="0.42" fill="#9a9a9a"/>
<circle cx="431.18" cy="197.70" r="0.42" fill="#9a9a9a"/>
<circle cx="427.58" cy="201.00" r="0.42" fill="#9a9a9a"/>
<circle cx="442.26" cy="197.70" r="0.42" fill="#9a9a9a"/>
<circle cx="445.86" cy="197.70" r="0.42" fill="#9a9a9a"/>
<circle cx="442.26" cy="201.00" r="0.42" fill="#9a9a9a"/>
<circle cx="445.86" cy="201.00" r="0.42" fill="#9a9a9a"/>
<circle cx="456.94" cy="197.70" r="0.42" fill="#9a9a9a"/>
<circle cx="460.54" cy="197.70" r="0.42" fill="#9a9a9a"/>
<circle cx="456.94" cy="201.00" r="0.42" fill="#9a9a9a"/>
<circle cx="460.54" cy="201.00" r="0.42" fill="#9a9a9a"/>
<circle cx="471.62" cy="197.70" r="0.42" fill="#9a9a9a"/>
<circle cx="475.22" cy="197.70" r="0.42" fill="#9a9a9a"/>
<circle cx="471.62" cy="201.00" r="0.42" fill="#9a9a9a"/>
<circle cx="475.22" cy="201.00" r="0.42" fill="#9a9a9a"/>
<circle cx="486.30" cy="197.70" r="0.42" fill="#9a9a9a"/>
<circle cx="489.90" cy="197.70" r="0.42" fill="#9a9a9a"/>
<circle cx="489.90" cy="201.00" r="0.42" fill="#9a9a9a"/>
<circle cx="500.98" cy="197.70" r="0.42" fill="#9a9a9a"/>
<circle cx="504.58" cy="197.70" r="0.42" fill="#9a9a9a"/>
<circle cx="500.98" cy="201.00" r="0.42" fill="#9a9a9a"/>
<circle cx="339.50" cy="212.97" r="0.42" fill="#9a9a9a"/>
<circle cx="343.10" cy="212.97" r="0.42" fill="#9a9a9a"/>
<circle cx="343.10" cy="216.27" r="0.42" fill="#9a9a9a"/>
<circle cx="354.18" cy="212.97" r="0.42" fill="#9a9a9a"/>
<circle cx="354.18" cy="216.27" r="0.42" fill="#9a9a9a"/>
<circle cx="357.78" cy="216.27" r="0.42" fill="#9a9a9a"/>
<circle cx="368.86" cy="212.97" r="0.42" fill="#9a9a9a"/>
<circle cx="372.46" cy="212.97" r="0.42" fill="#9a9a9a"/>
<circle cx="372.46" cy="216.27" r="0.42" fill="#9a9a9a"/>
<circle cx="387.14" cy="212.97" r="0.42" fill="#9a9a9a"/>
<circle cx="383.54" cy="216.27" r="0.42" fill="#9a9a9a"/>
<circle cx="387.14" cy="216.27" r="0.42" fill="#9a9a9a"/>
<circle cx="398.22" cy="212.97" r="0.42" fill="#9a9a9a"/>
<circle cx="401.82" cy="212.97" r="0.42" fill="#9a9a9a"/>
<circle cx="412.90" cy="212.97" r="0.42" fill="#9a9a9a"/>
<circle cx="416.50" cy="212.97" r="0.42" fill="#9a9a9a"/>
<circle cx="412.90" cy="216.27" r="0.42" fill="#9a9a9a"/>
<circle cx="416.50" cy="216.27" r="0.42" fill="#9a9a9a"/>
<circle cx="427.58" cy="212.97" r="0.42" fill="#9a9a9a"/>
<circle cx="431.18" cy="216.27" r="0.42" fill="#9a9a9a"/>
<circle cx="442.26" cy="212.97" r="0.42" fill="#9a9a9a"/>
<circle cx="445.86" cy="212.97" r="0.42" fill="#9a9a9a"/>
<circle cx="442.26" cy="216.27" r="0.42" fill="#9a9a9a"/>
<circle cx="445.86" cy="216.27" r="0.42" fill="#9a9a9a"/>
<circle cx="456.94" cy="212.97" r="0.42" fill="#9a9a9a"/>
<circle cx="460.54" cy="212.97" r="0.42" fill="#9a9a9a"/>
<circle cx="456.94" cy="216.27" r="0.42" fill="#9a9a9a"/>
<circle cx="471.62" cy="212.97" r="0.42" fill="#9a9a9a"/>
<circle cx="475.22" cy="212.97" r="0.42" fill="#9a9a9a"/>
<circle cx="471.62" cy="216.27" r="0.42" fill="#9a9a9a"/>
<circle cx="486.30" cy="212.97" r="0.42" fill="#9a9a9a"/>
<circle cx="489.90" cy="212.97" r="0.42" fill="#9a9a9a"/>
<circle cx="486.30" cy="216.27" r="0.42" fill="#9a9a9a"/>
<circle cx="500.98" cy="216.27" r="0.42" fill="#9a9a9a"/>
<circle cx="504.58" cy="216.27" r="0.42" fill="#9a9a9a"/>
<circle cx="339.50" cy="228.24" r="0.42" fill="#9a9a9a"/>
<circle cx="343.10" cy="231.54" r="0.42" fill="#9a9a9a"/>
<circle cx="354.18" cy="228.24" r="0.42" fill="#9a9a9a"/>
<circle cx="357.78" cy="228.24" r="0.42" fill="#9a9a9a"/>
<circle cx="354.18" cy="231.54" r="0.42" fill="#9a9a9a"/>
<circle cx="357.78" cy="231.54" r="0.42" fill="#9a9a9a"/>
<circle cx="368.86" cy="228.24" r="0.42" fill="#9a9a9a"/>
<circle cx="372.46" cy="228.24" r="0.42" fill="#9a9a9a"/>
<circle cx="368.86" cy="231.54" r="0.42" fill="#9a9a9a"/>
<circle cx="372.46" cy="231.54" r="0.42" fill="#9a9a9a"/>
<circle cx="383.54" cy="228.24" r="0.42" fill="#9a9a9a"/>
<circle cx="387.14" cy="228.24" r="0.42" fill="#9a9a9a"/>
<circle cx="387.14" cy="231.54" r="0.42" fill="#9a9a9a"/>
<circle cx="398.22" cy="228.24" r="0.42" fill="#9a9a9a"/>
<circle cx="401.82" cy="228.24" r="0.42" fill="#9a9a9a"/>
<circle cx="398.22" cy="231.54" r="0.42" fill="#9a9a9a"/>
<circle cx="401.82" cy="231.54" r="0.42" fill="#9a9a9a"/>
<circle cx="427.58" cy="228.24" r="0.42" fill="#9a9a9a"/>
<circle cx="431.18" cy="228.24" r="0.42" fill="#9a9a9a"/>
<circle cx="427.58" cy="231.54" r="0.42" fill="#9a9a9a"/>
<circle cx="431.18" cy="231.54" r="0.42" fill="#9a9a9a"/>
<circle cx="442.26" cy="228.24" r="0.42" fill="#9a9a9a"/>
<circle cx="445.86" cy="228.24" r="0.42" fill="#9a9a9a"/>
<circle cx="442.26" cy="231.54" r="0.42" fill="#9a9a9a"/>
<circle cx="445.86" cy="231.54" r="0.42" fill="#9a9a9a"/>
<circle cx="456.94" cy="228.24" r="0.42" fill="#9a9a9a"/>
<circle cx="460.54" cy="228.24" r="0.42" fill="#9a9a9a"/>
<circle cx="456.94" cy="231.54" r="0.42" fill="#9a9a9a"/>
<circle cx="460.54" cy="231.54" r="0.42" fill="#9a9a9a"/>
<circle cx="471.62" cy="228.24" r="0.42" fill="#9a9a9a"/>
<circle cx="475.22" cy="228.24" r="0.42" fill="#9a9a9a"/>
<circle cx="471.62" cy="231.54" r="0.42" fill="#9a9a9a"/>
<circle cx="486.30" cy="228.24" r="0.42" fill="#9a9a9a"/>
<circle cx="489.90" cy="228.24" r="0.42" fill="#9a9a9a"/>
<circle cx="486.30" cy="231.54" r="0.42" fill="#9a9a9a"/>
<circle cx="489.90" cy="231.54" r="0.42" fill="#9a9a9a"/>
<circle cx="500.98" cy="228.24" r="0.42" fill="#9a9a9a"/>
<circle cx="504.58" cy="228.24" r="0.42" fill="#9a9a9a"/>
<circle cx="339.50" cy="243.51" r="0.42" fill="#9a9a9a"/>
<circle cx="343.10" cy="243.51" r="0.42" fill="#9a9a9a"/>
<circle cx="339.50" cy="246.81" r="0.42" fill="#9a9a9a"/>
<circle cx="343.10" cy="246.81" r="0.42" fill="#9a9a9a"/>
<circle cx="354.18" cy="243.51" r="0.42" fill="#9a9a9a"/>
<circle cx="357.78" cy="243.51" r="0.42" fill="#9a9a9a"/>
<circle cx="357.78" cy="246.81" r="0.42" fill="#9a9a9a"/>
<circle cx="368.86" cy="243.51" r="0.42" fill="#9a9a9a"/>
<circle cx="368.86" cy="246.81" r="0.42" fill="#9a9a9a"/>
<circle cx="372.46" cy="246.81" r="0.42" fill="#9a9a9a"/>
<circle cx="383.54" cy="243.51" r="0.42" fill="#9a9a9a"/>
<circle cx="387.14" cy="243.51" r="0.42" fill="#9a9a9a"/>
<circle cx="383.54" cy="246.81" r="0.42" fill="#9a9a9a"/>
<circle cx="401.82" cy="243.51" r="0.42" fill="#9a9a9a"/>
<circle cx="398.22" cy="246.81" r="0.42" fill="#9a9a9a"/>
<circle cx="401.82" cy="246.81" r="0.42" fill="#9a9a9a"/>
<circle cx="412.90" cy="243.51" r="0.42" fill="#9a9a9a"/>
<circle cx="412.90" cy="246.81" r="0.42" fill="#9a9a9a"/>
<circle cx="427.58" cy="243.51" r="0.42" fill="#9a9a9a"/>
<circle cx="431.18" cy="243.51" r="0.42" fill="#9a9a9a"/>
<circle cx="445.86" cy="246.81" r="0.42" fill="#9a9a9a"/>
<circle cx="456.94" cy="243.51" r="0.42" fill="#9a9a9a"/>
<circle cx="460.54" cy="243.51" r="0.42" fill="#9a9a9a"/>
<circle cx="456.94" cy="246.81" r="0.42" fill="#9a9a9a"/>
<circle cx="460.54" cy="246.81" r="0.42" fill="#9a9a9a"/>
<circle cx="471.62" cy="243.51" r="0.42" fill="#9a9a9a"/>
<circle cx="475.22" cy="243.51" r="0.42" fill="#9a9a9a"/>
<circle cx="471.62" cy="246.81" r="0.42" fill="#9a9a9a"/>
<circle cx="475.22" cy="246.81" r="0.42" fill="#9a9a9a"/>
<circle cx="489.90" cy="243.51" r="0.42" fill="#9a9a9a"/>
<circle cx="504.58" cy="243.51" r="0.42" fill="#9a9a9a"/>
<circle cx="500.98" cy="246.81" r="0.42" fill="#9a9a9a"/>
<circle cx="504.58" cy="246.81" r="0.42" fill="#9a9a9a"/>
<circle cx="339.50" cy="258.78" r="0.42" fill="#9a9a9a"/>
<circle cx="343.10" cy="258.78" r="0.42" fill="#9a9a9a"/>
<circle cx="339.50" cy="262.08" r="0.42" fill="#9a9a9a"/>
<circle cx="357.78" cy="258.78" r="0.42" fill="#9a9a9a"/>
<circle cx="354.18" cy="262.08" r="0.42" fill="#9a9a9a"/>
<circle cx="368.86" cy="258.78" r="0.42" fill="#9a9a9a"/>
<circle cx="372.46" cy="258.78" r="0.42" fill="#9a9a9a"/>
<circle cx="387.14" cy="258.78" r="0.42" fill="#9a9a9a"/>
<circle cx="383.54" cy="262.08" r="0.42" fill="#9a9a9a"/>
<circle cx="398.22" cy="258.78" r="0.42" fill="#9a9a9a"/>
<circle cx="401.82" cy="262.08" r="0.42" fill="#9a9a9a"/>
<circle cx="412.90" cy="258.78" r="0.42" fill="#9a9a9a"/>
<circle cx="412.90" cy="262.08" r="0.42" fill="#9a9a9a"/>
<circle cx="416.50" cy="262.08" r="0.42" fill="#9a9a9a"/>
<circle cx="427.58" cy="258.78" r="0.42" fill="#9a9a9a"/>
<circle cx="431.18" cy="258.78" r="0.42" fill="#9a9a9a"/>
<circle cx="442.26" cy="258.78" r="0.42" fill="#9a9a9a"/>
<circle cx="445.86" cy="262.08" r="0.42" fill="#9a9a9a"/>
<circle cx="456.94" cy="258.78" r="0.42" fill="#9a9a9a"/>
<circle cx="460.54" cy="258.78" r="0.42" fill="#9a9a9a"/>
<circle cx="456.94" cy="262.08" r="0.42" fill="#9a9a9a"/>
<circle cx="460.54" cy="262.08" r="0.42" fill="#9a9a9a"/>
<circle cx="475.22" cy="258.78" r="0.42" fill="#9a9a9a"/>
<circle cx="471.62" cy="262.08" r="0.42" fill="#9a9a9a"/>
<circle cx="486.30" cy="258.78" r="0.42" fill="#9a9a9a"/>
<circle cx="489.90" cy="262.08" r="0.42" fill="#9a9a9a"/>
<circle cx="500.98" cy="258.78" r="0.42" fill="#9a9a9a"/>
<circle cx="504.58" cy="258.78" r="0.42" fill="#9a9a9a"/>
<circle cx="500.98" cy="262.08" r="0.42" fill="#9a9a9a"/>
<circle cx="504.58" cy="262.08" r="0.42" fill="#9a9a9a"/>
<circle cx="335.97" cy="195.75" r="0.50" fill="#e2e2e2"/>
<circle cx="374.80" cy="204.18" r="0.80" fill="#e2e2e2"/>
<circle cx="379.56" cy="196.55" r="0.50" fill="#e2e2e2"/>
<circle cx="380.18" cy="195.51" r="0.65" fill="#e2e2e2"/>
<circle cx="394.08" cy="196.92" r="0.50" fill="#e2e2e2"/>
<circle cx="409.57" cy="203.13" r="0.80" fill="#e2e2e2"/>
<circle cx="439.94" cy="204.20" r="0.80" fill="#e2e2e2"/>
<circle cx="438.99" cy="195.40" r="0.50" fill="#e2e2e2"/>
<circle cx="454.82" cy="204.36" r="0.65" fill="#e2e2e2"/>
<circle cx="453.64" cy="203.17" r="0.80" fill="#e2e2e2"/>
<circle cx="467.51" cy="196.85" r="0.50" fill="#e2e2e2"/>
<circle cx="478.32" cy="203.41" r="0.80" fill="#e2e2e2"/>
<circle cx="482.42" cy="196.36" r="0.65" fill="#e2e2e2"/>
<circle cx="492.61" cy="203.84" r="0.65" fill="#e2e2e2"/>
<circle cx="497.25" cy="202.53" r="0.65" fill="#e2e2e2"/>
<circle cx="498.44" cy="194.60" r="0.50" fill="#e2e2e2"/>
<circle cx="336.28" cy="218.54" r="0.65" fill="#e2e2e2"/>
<circle cx="346.22" cy="218.66" r="0.80" fill="#e2e2e2"/>
<circle cx="361.36" cy="218.03" r="0.80" fill="#e2e2e2"/>
<circle cx="365.33" cy="218.11" r="0.50" fill="#e2e2e2"/>
<circle cx="380.66" cy="218.94" r="0.50" fill="#e2e2e2"/>
<circle cx="394.42" cy="217.67" r="0.50" fill="#e2e2e2"/>
<circle cx="403.60" cy="219.88" r="0.50" fill="#e2e2e2"/>
<circle cx="409.16" cy="217.78" r="0.80" fill="#e2e2e2"/>
<circle cx="425.82" cy="219.89" r="0.65" fill="#e2e2e2"/>
<circle cx="426.74" cy="220.40" r="0.65" fill="#e2e2e2"/>
<circle cx="453.49" cy="210.92" r="0.80" fill="#e2e2e2"/>
<circle cx="484.29" cy="219.71" r="0.65" fill="#e2e2e2"/>
<circle cx="483.92" cy="209.73" r="0.50" fill="#e2e2e2"/>
<circle cx="499.29" cy="219.93" r="0.65" fill="#e2e2e2"/>
<circle cx="351.59" cy="234.50" r="0.65" fill="#e2e2e2"/>
<circle cx="375.91" cy="233.51" r="0.80" fill="#e2e2e2"/>
<circle cx="389.39" cy="234.80" r="0.50" fill="#e2e2e2"/>
<circle cx="382.81" cy="235.72" r="0.80" fill="#e2e2e2"/>
<circle cx="403.57" cy="235.17" r="0.65" fill="#e2e2e2"/>
<circle cx="439.30" cy="234.11" r="0.50" fill="#e2e2e2"/>
<circle cx="469.00" cy="234.47" r="0.65" fill="#e2e2e2"/>
<circle cx="491.56" cy="235.22" r="0.65" fill="#e2e2e2"/>
<circle cx="482.32" cy="227.10" r="0.80" fill="#e2e2e2"/>
<circle cx="497.33" cy="233.19" r="0.65" fill="#e2e2e2"/>
<circle cx="350.12" cy="247.67" r="0.80" fill="#e2e2e2"/>
<circle cx="366.01" cy="240.71" r="0.65" fill="#e2e2e2"/>
<circle cx="380.50" cy="240.92" r="0.65" fill="#e2e2e2"/>
<circle cx="380.84" cy="249.66" r="0.65" fill="#e2e2e2"/>
<circle cx="439.92" cy="240.23" r="0.80" fill="#e2e2e2"/>
<circle cx="449.12" cy="249.03" r="0.65" fill="#e2e2e2"/>
<circle cx="477.93" cy="240.57" r="0.65" fill="#e2e2e2"/>
<circle cx="467.91" cy="241.86" r="0.50" fill="#e2e2e2"/>
<circle cx="485.16" cy="250.79" r="0.80" fill="#e2e2e2"/>
<circle cx="506.07" cy="250.60" r="0.50" fill="#e2e2e2"/>
<circle cx="337.84" cy="265.77" r="0.80" fill="#e2e2e2"/>
<circle cx="361.20" cy="264.08" r="0.50" fill="#e2e2e2"/>
<circle cx="365.82" cy="256.19" r="0.65" fill="#e2e2e2"/>
<circle cx="365.04" cy="257.31" r="0.65" fill="#e2e2e2"/>
<circle cx="395.56" cy="264.97" r="0.65" fill="#e2e2e2"/>
<circle cx="396.06" cy="265.41" r="0.65" fill="#e2e2e2"/>
<circle cx="411.63" cy="265.99" r="0.65" fill="#e2e2e2"/>
<circle cx="409.81" cy="264.50" r="0.50" fill="#e2e2e2"/>
<circle cx="434.74" cy="263.87" r="0.65" fill="#e2e2e2"/>
<circle cx="447.86" cy="255.23" r="0.80" fill="#e2e2e2"/>
<circle cx="440.55" cy="265.73" r="0.50" fill="#e2e2e2"/>
<circle cx="463.06" cy="265.10" r="0.65" fill="#e2e2e2"/>
<circle cx="484.01" cy="265.30" r="0.50" fill="#e2e2e2"/>
<circle cx="498.34" cy="255.77" r="0.50" fill="#e2e2e2"/>
<circle cx="508.10" cy="256.82" r="0.80" fill="#e2e2e2"/>
<circle cx="336.99" cy="280.38" r="0.65" fill="#e2e2e2"/>
<circle cx="336.56" cy="279.95" r="0.80" fill="#e2e2e2"/>
<circle cx="350.78" cy="279.38" r="0.80" fill="#e2e2e2"/>
<circle cx="375.02" cy="270.97" r="0.80" fill="#e2e2e2"/>
<circle cx="364.89" cy="272.88" r="0.80" fill="#e2e2e2"/>
<circle cx="380.86" cy="271.08" r="0.50" fill="#e2e2e2"/>
<circle cx="390.05" cy="271.32" r="0.80" fill="#e2e2e2"/>
<circle cx="396.67" cy="281.10" r="0.50" fill="#e2e2e2"/>
<circle cx="410.46" cy="280.45" r="0.65" fill="#e2e2e2"/>
<circle cx="424.57" cy="279.88" r="0.80" fill="#e2e2e2"/>
<circle cx="424.56" cy="271.44" r="0.65" fill="#e2e2e2"/>
<circle cx="439.63" cy="280.27" r="0.50" fill="#e2e2e2"/>
<circle cx="452.91" cy="273.02" r="0.80" fill="#e2e2e2"/>
<circle cx="453.69" cy="279.59" r="0.65" fill="#e2e2e2"/>
<circle cx="468.18" cy="279.33" r="0.50" fill="#e2e2e2"/>
<circle cx="482.51" cy="278.77" r="0.65" fill="#e2e2e2"/>
<circle cx="508.16" cy="279.12" r="0.80" fill="#e2e2e2"/>
<circle cx="498.36" cy="280.28" r="0.80" fill="#e2e2e2"/>
<circle cx="336.55" cy="295.21" r="0.65" fill="#e2e2e2"/>
<circle cx="361.02" cy="286.98" r="0.65" fill="#e2e2e2"/>
<circle cx="364.88" cy="288.16" r="0.65" fill="#e2e2e2"/>
<circle cx="366.17" cy="295.48" r="0.80" fill="#e2e2e2"/>
<circle cx="404.52" cy="286.37" r="0.80" fill="#e2e2e2"/>
<circle cx="411.03" cy="296.16" r="0.65" fill="#e2e2e2"/>
<circle cx="409.21" cy="294.20" r="0.80" fill="#e2e2e2"/>
<circle cx="424.50" cy="295.06" r="0.65" fill="#e2e2e2"/>
<circle cx="464.12" cy="294.39" r="0.80" fill="#e2e2e2"/>
<circle cx="469.96" cy="296.30" r="0.50" fill="#e2e2e2"/>
<circle cx="468.71" cy="295.26" r="0.50" fill="#e2e2e2"/>
<circle cx="483.27" cy="295.12" r="0.50" fill="#e2e2e2"/>
<circle cx="483.59" cy="286.38" r="0.80" fill="#e2e2e2"/>
<circle cx="497.82" cy="294.96" r="0.50" fill="#e2e2e2"/>
<circle cx="346.06" cy="310.47" r="0.50" fill="#e2e2e2"/>
<circle cx="335.88" cy="309.59" r="0.80" fill="#e2e2e2"/>
<circle cx="360.93" cy="310.25" r="0.50" fill="#e2e2e2"/>
<circle cx="360.84" cy="310.35" r="0.65" fill="#e2e2e2"/>
<circle cx="381.23" cy="311.09" r="0.65" fill="#e2e2e2"/>
<circle cx="394.62" cy="309.62" r="0.50" fill="#e2e2e2"/>
<circle cx="403.32" cy="300.70" r="0.80" fill="#e2e2e2"/>
<circle cx="411.28" cy="311.60" r="0.65" fill="#e2e2e2"/>
<circle cx="423.53" cy="303.60" r="0.65" fill="#e2e2e2"/>
<circle cx="424.76" cy="310.62" r="0.65" fill="#e2e2e2"/>
<circle cx="478.82" cy="302.75" r="0.50" fill="#e2e2e2"/>
<circle cx="492.60" cy="310.74" r="0.50" fill="#e2e2e2"/>
<circle cx="506.36" cy="311.50" r="0.80" fill="#e2e2e2"/>
<circle cx="334.90" cy="204.90" r="0.8" fill="#ececec"/>
<circle cx="335.30" cy="193.10" r="0.6" fill="#d0d0d0"/>
<circle cx="334.90" cy="220.17" r="0.8" fill="#ececec"/>
<circle cx="335.30" cy="208.37" r="0.6" fill="#d0d0d0"/>
<circle cx="334.90" cy="235.44" r="0.8" fill="#ececec"/>
<circle cx="335.30" cy="223.64" r="0.6" fill="#d0d0d0"/>
<circle cx="334.90" cy="250.71" r="0.8" fill="#ececec"/>
<circle cx="335.30" cy="238.91" r="0.6" fill="#d0d0d0"/>
<circle cx="334.90" cy="265.98" r="0.8" fill="#ececec"/>
<circle cx="335.30" cy="254.18" r="0.6" fill="#d0d0d0"/>
<circle cx="334.90" cy="281.25" r="0.8" fill="#ececec"/>
<circle cx="335.30" cy="269.45" r="0.6" fill="#d0d0d0"/>
<circle cx="334.90" cy="296.52" r="0.8" fill="#ececec"/>
<circle cx="335.30" cy="284.72" r="0.6" fill="#d0d0d0"/>
<circle cx="334.90" cy="311.79" r="0.8" fill="#ececec"/>
<circle cx="335.30" cy="299.99" r="0.6" fill="#d0d0d0"/>
<text x="328.30" y="202.90" font-size="9.6" text-anchor="middle" fill="#6c6c6c">A</text>
<text x="328.30" y="218.17" font-size="9.6" text-anchor="middle" fill="#6c6c6c">B</text>
<text x="328.30" y="233.44" font-size="9.6" text-anchor="middle" fill="#6c6c6c">C</text>
<text x="328.30" y="248.71" font-size="9.6" text-anchor="middle" fill="#6c6c6c">D</text>
<text x="328.30" y="263.98" font-size="9.6" text-anchor="middle" fill="#6c6c6c">E</text>
<text x="328.30" y="279.25" font-size="9.6" text-anchor="middle" fill="#6c6c6c">F</text>
<text x="328.30" y="294.52" font-size="9.6" text-anchor="middle" fill="#6c6c6c">G</text>
<text x="328.30" y="309.79" font-size="9.6" text-anchor="middle" fill="#6c6c6c">H</text>
<text x="341.30" y="190.40" font-size="3.6" text-anchor="middle" fill="#606060">1</text>
<text x="355.98" y="190.40" font-size="3.6" text-anchor="middle" fill="#606060">2</text>
<text x="370.66" y="190.40" font-size="3.6" text-anchor="middle" fill="#606060">3</text>
<text x="385.34" y="190.40" font-size="3.6" text-anchor="middle" fill="#606060">4</text>
<text x="400.02" y="190.40" font-size="3.6" text-anchor="middle" fill="#606060">5</text>
<text x="414.70" y="190.40" font-size="3.6" text-anchor="middle" fill="#606060">6</text>
<text x="429.38" y="190.40" font-size="3.6" text-anchor="middle" fill="#606060">7</text>
<text x="444.06" y="190.40" font-size="3.6" text-anchor="middle" fill="#606060">8</text>
<text x="458.74" y="190.40" font-size="3.6" text-anchor="middle" fill="#606060">9</text>
<text x="473.42" y="190.40" font-size="3.6" text-anchor="middle" fill="#606060">10</text>
<text x="488.10" y="190.40" font-size="3.6" text-anchor="middle" fill="#606060">11</text>
<text x="502.78" y="190.40" font-size="3.6" text-anchor="middle" fill="#606060">12</text>
</g>
<g filter="url(#blurD2)">
<path d="M337.10,196.50 Q340.80,194.10 345.10,195.30 L343.90,198.70 L345.30,201.10 Q342.30,204.10 339.50,203.30 L339.10,200.90 Q336.10,199.90 337.10,196.50 Z" fill="#5049bc"/>
<path d="M351.78,196.50 Q355.48,194.10 359.78,195.30 L358.58,198.70 L359.98,201.10 Q356.98,204.10 354.18,203.30 L353.78,200.90 Q350.78,199.90 351.78,196.50 Z" fill="#5049bc"/>
<path d="M366.46,196.50 Q370.16,194.10 374.46,195.30 L373.26,198.70 L374.66,201.10 Q371.66,204.10 368.86,203.30 L368.46,200.90 Q365.46,199.90 366.46,196.50 Z" fill="#5049bc"/>
<circle cx="385.34" cy="214.57" r="7.1" fill="url(#gB)"/>
<circle cx="383.94" cy="213.77" r="1.2" fill="#38c4f4"/>
<circle cx="386.54" cy="215.47" r="0.9" fill="#40ccf0"/>
<circle cx="400.02" cy="214.57" r="7.1" fill="url(#gB)"/>
<circle cx="398.62" cy="213.77" r="1.2" fill="#38c4f4"/>
<circle cx="401.22" cy="215.47" r="0.9" fill="#40ccf0"/>
<circle cx="414.70" cy="214.57" r="7.1" fill="url(#gB)"/>
<circle cx="413.30" cy="213.77" r="1.2" fill="#38c4f4"/>
<circle cx="415.90" cy="215.47" r="0.9" fill="#40ccf0"/>
<circle cx="429.38" cy="229.84" r="7.3" fill="url(#gC)"/>
<circle cx="431.18" cy="231.44" r="0.9" fill="#e03018"/>
<circle cx="427.78" cy="231.74" r="0.7" fill="#e84818"/>
<circle cx="429.78" cy="228.04" r="0.7" fill="#e86020"/>
<circle cx="427.48" cy="228.84" r="0.8" fill="#48d048"/>
<circle cx="431.58" cy="228.44" r="0.7" fill="#58d848"/>
<circle cx="444.06" cy="229.84" r="7.3" fill="url(#gC)"/>
<circle cx="445.86" cy="231.44" r="0.9" fill="#e03018"/>
<circle cx="442.46" cy="231.74" r="0.7" fill="#e84818"/>
<circle cx="444.46" cy="228.04" r="0.7" fill="#e86020"/>
<circle cx="442.16" cy="228.84" r="0.8" fill="#48d048"/>
<circle cx="446.26" cy="228.44" r="0.7" fill="#58d848"/>
<circle cx="458.74" cy="229.84" r="7.3" fill="url(#gC)"/>
<circle cx="460.54" cy="231.44" r="0.9" fill="#e03018"/>
<circle cx="457.14" cy="231.74" r="0.7" fill="#e84818"/>
<circle cx="459.14" cy="228.04" r="0.7" fill="#e86020"/>
<circle cx="456.84" cy="228.84" r="0.8" fill="#48d048"/>
<circle cx="460.94" cy="228.44" r="0.7" fill="#58d848"/>
<circle cx="429.38" cy="245.11" r="6.7" fill="#4a45b2"/>
<circle cx="444.06" cy="245.11" r="6.7" fill="#4a45b2"/>
<circle cx="458.74" cy="245.11" r="6.7" fill="#4a45b2"/>
<circle cx="473.42" cy="245.11" r="6.7" fill="#4a45b2"/>
<circle cx="488.10" cy="245.11" r="6.7" fill="#4a45b2"/>
<circle cx="502.78" cy="245.11" r="6.7" fill="#4a45b2"/>
</g>
<text x="515.60" y="241.00" font-size="4.4" text-anchor="start" fill="#6a6a6a" textLength="32.00" lengthAdjust="spacingAndGlyphs" transform="rotate(82 515.60 241.00)">Costar 3915</text>
</g>
<rect x="526.90" y="187.10" width="3.30" height="117.30" fill="url(#cbar)" />
<text x="526.80" y="184.00" font-size="2.8" text-anchor="start" fill="#555" textLength="16.40" lengthAdjust="spacingAndGlyphs">Luminescence</text>
<text x="532.00" y="188.90" font-size="2.4" text-anchor="start" fill="#777">1.2</text>
<line x1="530.30" y1="188.00" x2="531.40" y2="188.00" stroke="#777" stroke-width="0.3" />
<text x="532.00" y="228.00" font-size="2.4" text-anchor="start" fill="#777">0.8</text>
<line x1="530.30" y1="227.10" x2="531.40" y2="227.10" stroke="#777" stroke-width="0.3" />
<text x="532.00" y="266.00" font-size="2.4" text-anchor="start" fill="#777">0.4</text>
<line x1="530.30" y1="265.10" x2="531.40" y2="265.10" stroke="#777" stroke-width="0.3" />
<text x="539.60" y="245.60" font-size="2.6" text-anchor="start" fill="#666">×10</text>
<text x="543.40" y="244.40" font-size="1.8" text-anchor="start" fill="#666">6</text>
<text x="526.60" y="309.60" font-size="2.8" text-anchor="start" fill="#555">Radiance</text>
<text x="526.60" y="312.80" font-size="2.6" text-anchor="start" fill="#666">(p/sec/cm²/sr)</text>
<rect x="526.50" y="315.20" width="18.20" height="9.80" fill="#fff" stroke="#888" stroke-width="0.4" />
<text x="527.60" y="318.30" font-size="2.6" text-anchor="start" fill="#555">Color Scale</text>
<text x="527.60" y="321.10" font-size="2.6" text-anchor="start" fill="#555">Min = 1.50e5</text>
<text x="527.60" y="323.90" font-size="2.6" text-anchor="start" fill="#555">Max = 1.32e6</text>
</g>
<g id="panel-e">
<text x="20.00" y="363.60" font-size="10" text-anchor="start" fill="#333" textLength="11.60" lengthAdjust="spacingAndGlyphs">(e)</text>
<line x1="99.80" y1="371.60" x2="99.80" y2="426.60" stroke="#222" stroke-width="1.1" />
<line x1="97.00" y1="426.60" x2="102.60" y2="426.60" stroke="#222" stroke-width="1.0" />
<line x1="96.00" y1="372.00" x2="99.80" y2="372.00" stroke="#222" stroke-width="1.0" />
<text x="91.20" y="374.40" font-size="6.4" text-anchor="end" fill="#222" font-weight="bold" textLength="26.00" lengthAdjust="spacingAndGlyphs" stroke="#222" stroke-width="0.25">1.5×10</text>
<text x="91.40" y="371.40" font-size="4.2" text-anchor="start" fill="#222" font-weight="bold" textLength="2.90" lengthAdjust="spacingAndGlyphs">8</text>
<line x1="96.00" y1="390.40" x2="99.80" y2="390.40" stroke="#222" stroke-width="1.0" />
<text x="91.20" y="392.80" font-size="6.4" text-anchor="end" fill="#222" font-weight="bold" textLength="19.00" lengthAdjust="spacingAndGlyphs" stroke="#222" stroke-width="0.25">1×10</text>
<text x="91.40" y="389.80" font-size="4.2" text-anchor="start" fill="#222" font-weight="bold" textLength="2.90" lengthAdjust="spacingAndGlyphs">8</text>
<line x1="96.00" y1="409.00" x2="99.80" y2="409.00" stroke="#222" stroke-width="1.0" />
<text x="91.20" y="411.40" font-size="6.4" text-anchor="end" fill="#222" font-weight="bold" textLength="19.00" lengthAdjust="spacingAndGlyphs" stroke="#222" stroke-width="0.25">5×10</text>
<text x="91.40" y="408.40" font-size="4.2" text-anchor="start" fill="#222" font-weight="bold" textLength="2.90" lengthAdjust="spacingAndGlyphs">7</text>
<line x1="99.80" y1="435.60" x2="99.80" y2="490.10" stroke="#222" stroke-width="1.1" />
<line x1="97.00" y1="435.60" x2="102.60" y2="435.60" stroke="#222" stroke-width="1.0" />
<line x1="96.00" y1="435.60" x2="99.80" y2="435.60" stroke="#222" stroke-width="1.0" />
<text x="94.20" y="438.00" font-size="6.4" text-anchor="end" fill="#222" font-weight="bold" textLength="28.80" lengthAdjust="spacingAndGlyphs" stroke="#222" stroke-width="0.25">400,000</text>
<line x1="96.00" y1="449.30" x2="99.80" y2="449.30" stroke="#222" stroke-width="1.0" />
<text x="94.20" y="451.70" font-size="6.4" text-anchor="end" fill="#222" font-weight="bold" textLength="28.80" lengthAdjust="spacingAndGlyphs" stroke="#222" stroke-width="0.25">300,000</text>
<line x1="96.00" y1="462.70" x2="99.80" y2="462.70" stroke="#222" stroke-width="1.0" />
<text x="94.20" y="465.10" font-size="6.4" text-anchor="end" fill="#222" font-weight="bold" textLength="28.80" lengthAdjust="spacingAndGlyphs" stroke="#222" stroke-width="0.25">200,000</text>
<line x1="96.00" y1="476.30" x2="99.80" y2="476.30" stroke="#222" stroke-width="1.0" />
<text x="94.20" y="478.70" font-size="6.4" text-anchor="end" fill="#222" font-weight="bold" textLength="28.80" lengthAdjust="spacingAndGlyphs" stroke="#222" stroke-width="0.25">100,000</text>
<line x1="96.00" y1="489.60" x2="99.80" y2="489.60" stroke="#222" stroke-width="1.0" />
<text x="94.20" y="492.00" font-size="6.4" text-anchor="end" fill="#222" font-weight="bold" textLength="4.40" lengthAdjust="spacingAndGlyphs" stroke="#222" stroke-width="0.25">0</text>
<line x1="99.30" y1="489.60" x2="240.60" y2="489.60" stroke="#222" stroke-width="1.1" />
<line x1="116.00" y1="489.60" x2="116.00" y2="493.00" stroke="#222" stroke-width="1.0" />
<line x1="140.00" y1="489.60" x2="140.00" y2="493.00" stroke="#222" stroke-width="1.0" />
<line x1="176.60" y1="489.60" x2="176.60" y2="493.00" stroke="#222" stroke-width="1.0" />
<line x1="201.00" y1="489.60" x2="201.00" y2="493.00" stroke="#222" stroke-width="1.0" />
<line x1="225.20" y1="489.60" x2="225.20" y2="493.00" stroke="#222" stroke-width="1.0" />
<rect x="108.00" y="485.60" width="15.80" height="4.00" fill="#2a2a2a" />
<line x1="116.00" y1="484.40" x2="116.00" y2="485.60" stroke="#333" stroke-width="0.8" />
<line x1="112.60" y1="484.40" x2="119.40" y2="484.40" stroke="#333" stroke-width="0.8" />
<rect x="132.00" y="459.10" width="16.00" height="30.50" fill="#2a2a2a" />
<line x1="140.00" y1="456.90" x2="140.00" y2="459.10" stroke="#333" stroke-width="0.8" />
<line x1="136.40" y1="456.90" x2="143.60" y2="456.90" stroke="#333" stroke-width="0.8" />
<rect x="168.70" y="436.00" width="15.80" height="53.60" fill="#e4525a" stroke="#b83a42" stroke-width="0.7" />
<rect x="193.10" y="436.00" width="15.80" height="53.60" fill="#98693a" stroke="#6e4a22" stroke-width="0.7" />
<rect x="193.10" y="406.50" width="15.80" height="20.10" fill="#98693a" stroke="#6e4a22" stroke-width="0.7" />
<line x1="197.50" y1="405.80" x2="204.50" y2="405.80" stroke="#444" stroke-width="0.8" />
<rect x="217.40" y="436.00" width="15.60" height="53.60" fill="#878787" stroke="#555" stroke-width="0.7" />
<rect x="217.40" y="382.00" width="15.60" height="44.60" fill="#878787" stroke="#555" stroke-width="0.7" />
<line x1="225.20" y1="375.50" x2="225.20" y2="382.00" stroke="#555" stroke-width="0.9" />
<line x1="221.60" y1="375.50" x2="229.00" y2="375.50" stroke="#555" stroke-width="0.9" />
<line x1="169.00" y1="426.40" x2="174.50" y2="426.40" stroke="#bbb" stroke-width="0.8" />
<line x1="178.00" y1="426.40" x2="184.60" y2="426.40" stroke="#aaa" stroke-width="0.8" />
<line x1="114.60" y1="371.40" x2="114.60" y2="448.80" stroke="#5c5c5c" stroke-width="0.8" />
<line x1="114.60" y1="371.50" x2="225.60" y2="371.50" stroke="#5c5c5c" stroke-width="0.9" />
<line x1="225.60" y1="371.40" x2="225.60" y2="374.20" stroke="#5c5c5c" stroke-width="0.8" />
<line x1="114.60" y1="398.90" x2="199.40" y2="398.90" stroke="#5c5c5c" stroke-width="0.9" />
<line x1="199.40" y1="398.90" x2="199.40" y2="401.40" stroke="#5c5c5c" stroke-width="0.8" />
<line x1="114.60" y1="424.70" x2="176.00" y2="424.70" stroke="#5c5c5c" stroke-width="0.9" />
<line x1="176.00" y1="424.70" x2="176.00" y2="428.00" stroke="#5c5c5c" stroke-width="0.8" />
<line x1="114.60" y1="444.60" x2="140.00" y2="444.60" stroke="#5c5c5c" stroke-width="0.9" />
<line x1="140.00" y1="444.60" x2="140.00" y2="448.80" stroke="#5c5c5c" stroke-width="0.8" />
<text x="167.40" y="370.60" font-size="6.5" text-anchor="middle" fill="#333" font-weight="bold">*</text>
<text x="159.40" y="398.60" font-size="6.5" text-anchor="middle" fill="#333" font-weight="bold" textLength="6.40" lengthAdjust="spacingAndGlyphs">**</text>
<text x="151.00" y="425.40" font-size="6.5" text-anchor="middle" fill="#333" font-weight="bold" textLength="9.60" lengthAdjust="spacingAndGlyphs">***</text>
<text x="129.00" y="444.80" font-size="6.5" text-anchor="middle" fill="#333" font-weight="bold" textLength="9.60" lengthAdjust="spacingAndGlyphs">***</text>
<text x="48.00" y="431.00" font-size="7.8" text-anchor="middle" fill="#222" font-weight="bold" textLength="49.30" lengthAdjust="spacingAndGlyphs" transform="rotate(-90 48.00 431.00)" stroke="#222" stroke-width="0.25">Avg. Radiance</text>
<text x="58.20" y="430.30" font-size="7.8" text-anchor="middle" fill="#222" font-weight="bold" textLength="40.60" lengthAdjust="spacingAndGlyphs" transform="rotate(-90 58.20 430.30)" stroke="#222" stroke-width="0.25">[p/s/cm²/sr]</text>
<text font-size="6" font-weight="bold" text-anchor="end" fill="#222" stroke="#222" stroke-width="0.2" transform="translate(118.8,500.2) scale(1.29,1) rotate(-45)">Luz</text>
<text font-size="6" font-weight="bold" text-anchor="end" fill="#222" stroke="#222" stroke-width="0.2" transform="translate(143.2,500.2) scale(1.29,1) rotate(-45)">hLuz</text>
<text font-size="6" font-weight="bold" text-anchor="end" fill="#222" stroke="#222" stroke-width="0.2" transform="translate(178.6,500.6) scale(1.29,1) rotate(-45)">FLuc2</text>
<text font-size="6" font-weight="bold" text-anchor="end" fill="#222" stroke="#222" stroke-width="0.2" transform="translate(203.2,500.6) scale(1.29,1) rotate(-45)">RLuc 8.6</text>
<text font-size="6" font-weight="bold" text-anchor="end" fill="#222" stroke="#222" stroke-width="0.2" transform="translate(226.8,500.4) scale(1.29,1) rotate(-45)">NanoLuc</text>
</g>
<g id="panel-f">
<text x="267.80" y="363.40" font-size="10" text-anchor="start" fill="#333" textLength="10.20" lengthAdjust="spacingAndGlyphs">(f)</text>
<line x1="328.40" y1="375.00" x2="328.40" y2="482.00" stroke="#222" stroke-width="1.2" />
<line x1="327.80" y1="481.40" x2="506.30" y2="481.40" stroke="#222" stroke-width="1.2" />
<line x1="324.60" y1="392.90" x2="328.40" y2="392.90" stroke="#222" stroke-width="1.0" />
<text x="323.40" y="395.50" font-size="7.2" text-anchor="end" fill="#222" textLength="9.40" lengthAdjust="spacingAndGlyphs" stroke="#222" stroke-width="0.3">1.0</text>
<line x1="324.60" y1="437.15" x2="328.40" y2="437.15" stroke="#222" stroke-width="1.0" />
<text x="323.40" y="439.75" font-size="7.2" text-anchor="end" fill="#222" textLength="9.40" lengthAdjust="spacingAndGlyphs" stroke="#222" stroke-width="0.3">0.5</text>
<line x1="324.60" y1="481.40" x2="328.40" y2="481.40" stroke="#222" stroke-width="1.0" />
<text x="323.40" y="484.00" font-size="7.2" text-anchor="end" fill="#222" textLength="9.40" lengthAdjust="spacingAndGlyphs" stroke="#222" stroke-width="0.3">0.0</text>
<line x1="328.40" y1="481.40" x2="328.40" y2="486.20" stroke="#222" stroke-width="1.0" />
<text x="328.40" y="496.20" font-size="7.0" text-anchor="middle" fill="#222" textLength="11.40" lengthAdjust="spacingAndGlyphs" stroke="#222" stroke-width="0.3">480</text>
<line x1="346.14" y1="481.40" x2="346.14" y2="486.20" stroke="#222" stroke-width="1.0" />
<text x="346.14" y="496.20" font-size="7.0" text-anchor="middle" fill="#222" textLength="11.40" lengthAdjust="spacingAndGlyphs" stroke="#222" stroke-width="0.3">500</text>
<line x1="363.88" y1="481.40" x2="363.88" y2="486.20" stroke="#222" stroke-width="1.0" />
<text x="363.88" y="496.20" font-size="7.0" text-anchor="middle" fill="#222" textLength="11.40" lengthAdjust="spacingAndGlyphs" stroke="#222" stroke-width="0.3">520</text>
<line x1="381.62" y1="481.40" x2="381.62" y2="486.20" stroke="#222" stroke-width="1.0" />
<text x="381.62" y="496.20" font-size="7.0" text-anchor="middle" fill="#222" textLength="11.40" lengthAdjust="spacingAndGlyphs" stroke="#222" stroke-width="0.3">540</text>
<line x1="399.36" y1="481.40" x2="399.36" y2="486.20" stroke="#222" stroke-width="1.0" />
<text x="399.36" y="496.20" font-size="7.0" text-anchor="middle" fill="#222" textLength="11.40" lengthAdjust="spacingAndGlyphs" stroke="#222" stroke-width="0.3">560</text>
<line x1="417.10" y1="481.40" x2="417.10" y2="486.20" stroke="#222" stroke-width="1.0" />
<text x="417.10" y="496.20" font-size="7.0" text-anchor="middle" fill="#222" textLength="11.40" lengthAdjust="spacingAndGlyphs" stroke="#222" stroke-width="0.3">580</text>
<line x1="434.84" y1="481.40" x2="434.84" y2="486.20" stroke="#222" stroke-width="1.0" />
<text x="434.84" y="496.20" font-size="7.0" text-anchor="middle" fill="#222" textLength="11.40" lengthAdjust="spacingAndGlyphs" stroke="#222" stroke-width="0.3">600</text>
<line x1="452.58" y1="481.40" x2="452.58" y2="486.20" stroke="#222" stroke-width="1.0" />
<text x="452.58" y="496.20" font-size="7.0" text-anchor="middle" fill="#222" textLength="11.40" lengthAdjust="spacingAndGlyphs" stroke="#222" stroke-width="0.3">620</text>
<line x1="470.32" y1="481.40" x2="470.32" y2="486.20" stroke="#222" stroke-width="1.0" />
<text x="470.32" y="496.20" font-size="7.0" text-anchor="middle" fill="#222" textLength="11.40" lengthAdjust="spacingAndGlyphs" stroke="#222" stroke-width="0.3">640</text>
<line x1="488.06" y1="481.40" x2="488.06" y2="486.20" stroke="#222" stroke-width="1.0" />
<text x="488.06" y="496.20" font-size="7.0" text-anchor="middle" fill="#222" textLength="11.40" lengthAdjust="spacingAndGlyphs" stroke="#222" stroke-width="0.3">660</text>
<line x1="505.80" y1="481.40" x2="505.80" y2="486.20" stroke="#222" stroke-width="1.0" />
<text x="505.80" y="496.20" font-size="7.0" text-anchor="middle" fill="#222" textLength="11.40" lengthAdjust="spacingAndGlyphs" stroke="#222" stroke-width="0.3">680</text>
<text x="417.00" y="510.60" font-size="7.8" text-anchor="middle" fill="#333" textLength="40.00" lengthAdjust="spacingAndGlyphs">Wavelength</text>
<text x="293.40" y="428.50" font-size="8.6" text-anchor="middle" fill="#222" font-weight="bold" textLength="49.00" lengthAdjust="spacingAndGlyphs" transform="rotate(-90 293.40 428.50)">Normalized</text>
<text x="302.60" y="428.20" font-size="8.6" text-anchor="middle" fill="#222" font-weight="bold" textLength="76.40" lengthAdjust="spacingAndGlyphs" transform="rotate(-90 302.60 428.20)">luciferase activity</text>
<polyline points="346.14,392.90 363.88,405.47 372.75,419.45 381.62,436.26 390.49,450.42 399.36,461.31 408.23,469.01 417.10,473.88 425.97,477.86 434.84,479.98 452.58,480.51 470.32,480.69 488.06,480.87" fill="none" stroke="#555" stroke-width="1.1" stroke-dasharray="1.1 1.7" stroke-linejoin="round"/>
<polyline points="346.14,416.88 355.01,404.40 363.88,394.23 372.75,395.11 381.62,399.09 399.36,416.79 417.10,430.51 434.84,446.88 452.58,460.16 470.32,467.06 488.06,472.73" fill="none" stroke="#94641f" stroke-width="1.3" stroke-dasharray="3 1.6 1 1.6" stroke-linejoin="round"/>
<polyline points="346.14,462.02 355.01,457.06 363.88,451.04 372.75,444.23 381.62,435.56 390.49,417.68 399.36,402.02 408.23,396.88 417.10,392.90 434.84,412.37 452.58,437.42 470.32,449.89" fill="none" stroke="#f03038" stroke-width="1.3" stroke-dasharray="3.2 2.4" stroke-linejoin="round"/>
<polyline points="346.14,432.11 363.88,392.90 381.62,405.47 399.36,431.66 417.10,440.78 434.84,449.27 452.58,462.46 470.32,469.28 488.06,475.03" fill="none" stroke="#1c1c1c" stroke-width="1.2" stroke-linejoin="round"/>
<line x1="461.30" y1="380.50" x2="470.60" y2="380.50" stroke="#1c1c1c" stroke-width="1.3" />
<text x="476.70" y="383.50" font-size="9.6" text-anchor="start" fill="#222" textLength="17.80" lengthAdjust="spacingAndGlyphs" stroke="#222" stroke-width="0.15">hLuz</text>
<line x1="461.30" y1="395.60" x2="470.60" y2="395.60" stroke="#f03038" stroke-width="1.2" stroke-dasharray="2.4 1.8"/>
<text x="476.70" y="398.60" font-size="9.6" text-anchor="start" fill="#222" textLength="25.50" lengthAdjust="spacingAndGlyphs" stroke="#222" stroke-width="0.15">FLuc2</text>
<line x1="461.30" y1="410.70" x2="470.60" y2="410.70" stroke="#94641f" stroke-width="1.2" stroke-dasharray="2.6 1.5 1 1.5"/>
<text x="476.70" y="413.70" font-size="9.6" text-anchor="start" fill="#222" textLength="35.50" lengthAdjust="spacingAndGlyphs" stroke="#222" stroke-width="0.15">RLuc 8.6</text>
<line x1="461.30" y1="425.80" x2="470.60" y2="425.80" stroke="#555" stroke-width="1.1" stroke-dasharray="1.1 1.7"/>
<text x="476.70" y="428.80" font-size="9.6" text-anchor="start" fill="#222" textLength="34.60" lengthAdjust="spacingAndGlyphs" stroke="#222" stroke-width="0.15">NanoLuc</text>
</g>
</svg>
</body></html>
